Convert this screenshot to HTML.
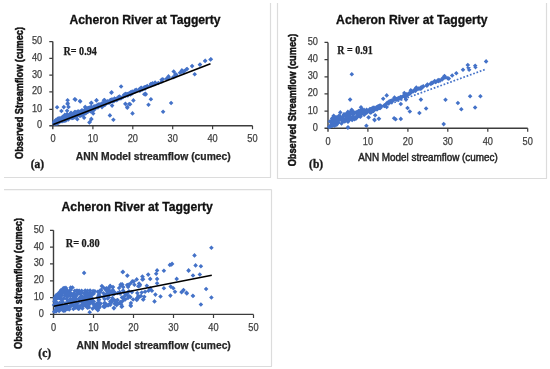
<!DOCTYPE html>
<html><head><meta charset="utf-8"><title>Acheron River at Taggerty</title><style>
html,body{margin:0;padding:0;background:#fff;width:550px;height:369px;overflow:hidden}
svg{position:absolute;left:0;top:0}
text{font-family:"Liberation Sans",Arial,sans-serif}
.tk{font-size:10.5px;fill:#404040;stroke:#404040;stroke-width:0.25}
.tt{font-size:12px;font-weight:bold;fill:#111;stroke:#111;stroke-width:0.3}
.xl{font-size:10px;font-weight:bold;fill:#262626;stroke:#262626;stroke-width:0.25}
.xl2{font-size:10px;fill:#262626;stroke:#262626;stroke-width:0.45}
.yl{font-size:10px;font-weight:bold;fill:#111;stroke:#111;stroke-width:0.45}
.rr{font-family:"Liberation Serif",serif;font-size:12px;font-weight:bold;fill:#1a1a1a;stroke:#1a1a1a;stroke-width:0.25}
.lb{font-family:"Liberation Serif",serif;font-size:11.5px;font-weight:bold;fill:#1a1a1a;stroke:#1a1a1a;stroke-width:0.35}
</style></head>
<body><svg width="550" height="369" viewBox="0 0 550 369">
<path d="M4 177.5H271M270.5 3V177.5" stroke="#dcdcdc" stroke-width="1.2" fill="none"/>
<path d="M277.5 3V178.5H547M546.5 3V178.5" stroke="#dcdcdc" stroke-width="1.2" fill="none"/>
<path d="M4 189.6H271.5M271.5 189.6V366.5M4 366.5H272" stroke="#dcdcdc" stroke-width="1.2" fill="none"/>
<path d="M52.8 41.6V129.3M49.3 125.8H252.5" stroke="#3c3c3c" stroke-width="1.4" fill="none"/>
<path d="M92.9 125.8v3.5M132.8 125.8v3.5M172.7 125.8v3.5M212.6 125.8v3.5M252.5 125.8v3.5M49.3 109.3h3.5M49.3 91.9h3.5M49.3 75.2h3.5M49.3 58.4h3.5M49.3 41.6h3.5" stroke="#3c3c3c" stroke-width="1.2" fill="none"/>
<path d="M55.4 120.1l2.3 2.3 -2.3 2.3 -2.3 -2.3zM56.8 118.9l2.3 2.3 -2.3 2.3 -2.3 -2.3zM55.5 120.1l2.3 2.3 -2.3 2.3 -2.3 -2.3zM54.6 120.4l2.3 2.3 -2.3 2.3 -2.3 -2.3zM55.9 120.8l2.3 2.3 -2.3 2.3 -2.3 -2.3zM54.3 119.9l2.3 2.3 -2.3 2.3 -2.3 -2.3zM54.3 121.5l2.3 2.3 -2.3 2.3 -2.3 -2.3zM56.1 117.6l2.3 2.3 -2.3 2.3 -2.3 -2.3zM56.9 121.1l2.3 2.3 -2.3 2.3 -2.3 -2.3zM56.0 120.0l2.3 2.3 -2.3 2.3 -2.3 -2.3zM54.5 118.9l2.3 2.3 -2.3 2.3 -2.3 -2.3zM55.6 118.1l2.3 2.3 -2.3 2.3 -2.3 -2.3zM54.6 119.5l2.3 2.3 -2.3 2.3 -2.3 -2.3zM54.1 120.5l2.3 2.3 -2.3 2.3 -2.3 -2.3zM55.3 121.2l2.3 2.3 -2.3 2.3 -2.3 -2.3zM60.6 118.0l2.3 2.3 -2.3 2.3 -2.3 -2.3zM60.5 118.2l2.3 2.3 -2.3 2.3 -2.3 -2.3zM60.2 116.3l2.3 2.3 -2.3 2.3 -2.3 -2.3zM64.0 118.7l2.3 2.3 -2.3 2.3 -2.3 -2.3zM62.9 117.4l2.3 2.3 -2.3 2.3 -2.3 -2.3zM59.2 116.6l2.3 2.3 -2.3 2.3 -2.3 -2.3zM59.0 115.9l2.3 2.3 -2.3 2.3 -2.3 -2.3zM62.4 115.9l2.3 2.3 -2.3 2.3 -2.3 -2.3zM62.9 115.5l2.3 2.3 -2.3 2.3 -2.3 -2.3zM63.7 117.9l2.3 2.3 -2.3 2.3 -2.3 -2.3zM57.0 117.6l2.3 2.3 -2.3 2.3 -2.3 -2.3zM63.4 115.8l2.3 2.3 -2.3 2.3 -2.3 -2.3zM63.9 115.2l2.3 2.3 -2.3 2.3 -2.3 -2.3zM57.5 119.3l2.3 2.3 -2.3 2.3 -2.3 -2.3zM62.4 115.1l2.3 2.3 -2.3 2.3 -2.3 -2.3zM57.6 117.9l2.3 2.3 -2.3 2.3 -2.3 -2.3zM63.7 117.4l2.3 2.3 -2.3 2.3 -2.3 -2.3zM57.8 117.4l2.3 2.3 -2.3 2.3 -2.3 -2.3zM57.7 116.6l2.3 2.3 -2.3 2.3 -2.3 -2.3zM62.6 114.5l2.3 2.3 -2.3 2.3 -2.3 -2.3zM60.9 116.9l2.3 2.3 -2.3 2.3 -2.3 -2.3zM58.3 119.4l2.3 2.3 -2.3 2.3 -2.3 -2.3zM57.9 119.2l2.3 2.3 -2.3 2.3 -2.3 -2.3zM57.8 118.2l2.3 2.3 -2.3 2.3 -2.3 -2.3zM58.5 117.1l2.3 2.3 -2.3 2.3 -2.3 -2.3zM63.8 117.6l2.3 2.3 -2.3 2.3 -2.3 -2.3zM59.1 119.9l2.3 2.3 -2.3 2.3 -2.3 -2.3zM58.5 117.8l2.3 2.3 -2.3 2.3 -2.3 -2.3zM63.0 117.0l2.3 2.3 -2.3 2.3 -2.3 -2.3zM57.7 120.9l2.3 2.3 -2.3 2.3 -2.3 -2.3zM58.5 117.1l2.3 2.3 -2.3 2.3 -2.3 -2.3zM62.4 115.5l2.3 2.3 -2.3 2.3 -2.3 -2.3zM59.1 115.9l2.3 2.3 -2.3 2.3 -2.3 -2.3zM57.6 119.0l2.3 2.3 -2.3 2.3 -2.3 -2.3zM58.7 118.7l2.3 2.3 -2.3 2.3 -2.3 -2.3zM59.6 117.5l2.3 2.3 -2.3 2.3 -2.3 -2.3zM63.7 115.7l2.3 2.3 -2.3 2.3 -2.3 -2.3zM61.0 119.0l2.3 2.3 -2.3 2.3 -2.3 -2.3zM58.3 116.7l2.3 2.3 -2.3 2.3 -2.3 -2.3zM63.4 117.9l2.3 2.3 -2.3 2.3 -2.3 -2.3zM58.7 116.6l2.3 2.3 -2.3 2.3 -2.3 -2.3zM62.2 119.0l2.3 2.3 -2.3 2.3 -2.3 -2.3zM65.2 118.0l2.3 2.3 -2.3 2.3 -2.3 -2.3zM69.3 114.6l2.3 2.3 -2.3 2.3 -2.3 -2.3zM66.5 112.5l2.3 2.3 -2.3 2.3 -2.3 -2.3zM64.2 118.4l2.3 2.3 -2.3 2.3 -2.3 -2.3zM65.4 116.5l2.3 2.3 -2.3 2.3 -2.3 -2.3zM65.5 117.1l2.3 2.3 -2.3 2.3 -2.3 -2.3zM67.6 113.3l2.3 2.3 -2.3 2.3 -2.3 -2.3zM65.1 116.7l2.3 2.3 -2.3 2.3 -2.3 -2.3zM64.4 113.9l2.3 2.3 -2.3 2.3 -2.3 -2.3zM67.4 116.7l2.3 2.3 -2.3 2.3 -2.3 -2.3zM67.7 113.2l2.3 2.3 -2.3 2.3 -2.3 -2.3zM69.5 112.1l2.3 2.3 -2.3 2.3 -2.3 -2.3zM64.1 114.3l2.3 2.3 -2.3 2.3 -2.3 -2.3zM66.7 112.2l2.3 2.3 -2.3 2.3 -2.3 -2.3zM65.1 114.6l2.3 2.3 -2.3 2.3 -2.3 -2.3zM67.4 112.3l2.3 2.3 -2.3 2.3 -2.3 -2.3zM66.2 117.3l2.3 2.3 -2.3 2.3 -2.3 -2.3zM69.9 114.7l2.3 2.3 -2.3 2.3 -2.3 -2.3zM68.1 114.8l2.3 2.3 -2.3 2.3 -2.3 -2.3zM64.8 112.6l2.3 2.3 -2.3 2.3 -2.3 -2.3zM64.1 118.1l2.3 2.3 -2.3 2.3 -2.3 -2.3zM68.2 117.1l2.3 2.3 -2.3 2.3 -2.3 -2.3zM64.1 116.5l2.3 2.3 -2.3 2.3 -2.3 -2.3zM66.9 116.1l2.3 2.3 -2.3 2.3 -2.3 -2.3zM65.9 118.1l2.3 2.3 -2.3 2.3 -2.3 -2.3zM64.5 115.8l2.3 2.3 -2.3 2.3 -2.3 -2.3zM68.4 116.6l2.3 2.3 -2.3 2.3 -2.3 -2.3zM68.4 115.4l2.3 2.3 -2.3 2.3 -2.3 -2.3zM68.8 116.6l2.3 2.3 -2.3 2.3 -2.3 -2.3zM66.1 116.1l2.3 2.3 -2.3 2.3 -2.3 -2.3zM69.4 116.1l2.3 2.3 -2.3 2.3 -2.3 -2.3zM66.5 116.6l2.3 2.3 -2.3 2.3 -2.3 -2.3zM69.2 114.4l2.3 2.3 -2.3 2.3 -2.3 -2.3zM67.7 113.7l2.3 2.3 -2.3 2.3 -2.3 -2.3zM72.3 113.8l2.3 2.3 -2.3 2.3 -2.3 -2.3zM70.3 114.5l2.3 2.3 -2.3 2.3 -2.3 -2.3zM74.0 115.2l2.3 2.3 -2.3 2.3 -2.3 -2.3zM72.9 112.4l2.3 2.3 -2.3 2.3 -2.3 -2.3zM72.9 113.5l2.3 2.3 -2.3 2.3 -2.3 -2.3zM71.8 115.4l2.3 2.3 -2.3 2.3 -2.3 -2.3zM70.3 115.1l2.3 2.3 -2.3 2.3 -2.3 -2.3zM70.1 114.3l2.3 2.3 -2.3 2.3 -2.3 -2.3zM71.9 111.6l2.3 2.3 -2.3 2.3 -2.3 -2.3zM72.8 113.1l2.3 2.3 -2.3 2.3 -2.3 -2.3zM72.5 115.7l2.3 2.3 -2.3 2.3 -2.3 -2.3zM71.0 110.5l2.3 2.3 -2.3 2.3 -2.3 -2.3zM71.2 114.5l2.3 2.3 -2.3 2.3 -2.3 -2.3zM70.8 111.5l2.3 2.3 -2.3 2.3 -2.3 -2.3zM73.6 113.9l2.3 2.3 -2.3 2.3 -2.3 -2.3zM71.8 115.7l2.3 2.3 -2.3 2.3 -2.3 -2.3zM71.3 114.4l2.3 2.3 -2.3 2.3 -2.3 -2.3zM70.8 113.1l2.3 2.3 -2.3 2.3 -2.3 -2.3zM73.2 115.5l2.3 2.3 -2.3 2.3 -2.3 -2.3zM73.5 112.2l2.3 2.3 -2.3 2.3 -2.3 -2.3zM72.3 112.1l2.3 2.3 -2.3 2.3 -2.3 -2.3zM75.2 112.4l2.3 2.3 -2.3 2.3 -2.3 -2.3zM81.5 112.4l2.3 2.3 -2.3 2.3 -2.3 -2.3zM80.4 113.3l2.3 2.3 -2.3 2.3 -2.3 -2.3zM76.5 110.1l2.3 2.3 -2.3 2.3 -2.3 -2.3zM78.1 110.3l2.3 2.3 -2.3 2.3 -2.3 -2.3zM75.9 111.7l2.3 2.3 -2.3 2.3 -2.3 -2.3zM79.6 111.1l2.3 2.3 -2.3 2.3 -2.3 -2.3zM76.8 113.9l2.3 2.3 -2.3 2.3 -2.3 -2.3zM82.8 109.9l2.3 2.3 -2.3 2.3 -2.3 -2.3zM74.7 109.7l2.3 2.3 -2.3 2.3 -2.3 -2.3zM81.9 108.1l2.3 2.3 -2.3 2.3 -2.3 -2.3zM80.4 111.3l2.3 2.3 -2.3 2.3 -2.3 -2.3zM76.8 113.7l2.3 2.3 -2.3 2.3 -2.3 -2.3zM74.2 110.5l2.3 2.3 -2.3 2.3 -2.3 -2.3zM78.1 108.9l2.3 2.3 -2.3 2.3 -2.3 -2.3zM81.5 109.2l2.3 2.3 -2.3 2.3 -2.3 -2.3zM75.3 109.7l2.3 2.3 -2.3 2.3 -2.3 -2.3zM79.7 110.8l2.3 2.3 -2.3 2.3 -2.3 -2.3zM79.7 111.9l2.3 2.3 -2.3 2.3 -2.3 -2.3zM81.3 113.0l2.3 2.3 -2.3 2.3 -2.3 -2.3zM80.2 109.3l2.3 2.3 -2.3 2.3 -2.3 -2.3zM78.3 109.7l2.3 2.3 -2.3 2.3 -2.3 -2.3zM74.1 112.6l2.3 2.3 -2.3 2.3 -2.3 -2.3zM80.4 109.2l2.3 2.3 -2.3 2.3 -2.3 -2.3zM76.5 111.2l2.3 2.3 -2.3 2.3 -2.3 -2.3zM80.3 111.0l2.3 2.3 -2.3 2.3 -2.3 -2.3zM79.5 112.5l2.3 2.3 -2.3 2.3 -2.3 -2.3zM77.5 113.4l2.3 2.3 -2.3 2.3 -2.3 -2.3zM82.2 108.2l2.3 2.3 -2.3 2.3 -2.3 -2.3zM82.4 111.4l2.3 2.3 -2.3 2.3 -2.3 -2.3zM75.2 112.2l2.3 2.3 -2.3 2.3 -2.3 -2.3zM79.6 113.3l2.3 2.3 -2.3 2.3 -2.3 -2.3zM77.4 112.2l2.3 2.3 -2.3 2.3 -2.3 -2.3zM81.9 112.0l2.3 2.3 -2.3 2.3 -2.3 -2.3zM82.5 110.1l2.3 2.3 -2.3 2.3 -2.3 -2.3zM79.9 109.4l2.3 2.3 -2.3 2.3 -2.3 -2.3zM80.5 112.5l2.3 2.3 -2.3 2.3 -2.3 -2.3zM79.8 112.2l2.3 2.3 -2.3 2.3 -2.3 -2.3zM75.9 114.6l2.3 2.3 -2.3 2.3 -2.3 -2.3zM82.8 112.6l2.3 2.3 -2.3 2.3 -2.3 -2.3zM87.8 109.5l2.3 2.3 -2.3 2.3 -2.3 -2.3zM85.9 110.9l2.3 2.3 -2.3 2.3 -2.3 -2.3zM90.7 106.3l2.3 2.3 -2.3 2.3 -2.3 -2.3zM83.7 109.5l2.3 2.3 -2.3 2.3 -2.3 -2.3zM88.0 109.4l2.3 2.3 -2.3 2.3 -2.3 -2.3zM87.4 106.1l2.3 2.3 -2.3 2.3 -2.3 -2.3zM90.3 105.1l2.3 2.3 -2.3 2.3 -2.3 -2.3zM90.2 105.7l2.3 2.3 -2.3 2.3 -2.3 -2.3zM86.0 110.3l2.3 2.3 -2.3 2.3 -2.3 -2.3zM84.3 107.9l2.3 2.3 -2.3 2.3 -2.3 -2.3zM87.6 109.3l2.3 2.3 -2.3 2.3 -2.3 -2.3zM90.6 107.9l2.3 2.3 -2.3 2.3 -2.3 -2.3zM91.5 106.6l2.3 2.3 -2.3 2.3 -2.3 -2.3zM91.5 104.8l2.3 2.3 -2.3 2.3 -2.3 -2.3zM85.0 109.4l2.3 2.3 -2.3 2.3 -2.3 -2.3zM85.6 110.2l2.3 2.3 -2.3 2.3 -2.3 -2.3zM88.7 107.9l2.3 2.3 -2.3 2.3 -2.3 -2.3zM90.6 107.3l2.3 2.3 -2.3 2.3 -2.3 -2.3zM85.8 108.4l2.3 2.3 -2.3 2.3 -2.3 -2.3zM90.6 108.8l2.3 2.3 -2.3 2.3 -2.3 -2.3zM84.9 111.1l2.3 2.3 -2.3 2.3 -2.3 -2.3zM91.7 106.7l2.3 2.3 -2.3 2.3 -2.3 -2.3zM88.2 106.6l2.3 2.3 -2.3 2.3 -2.3 -2.3zM87.8 108.2l2.3 2.3 -2.3 2.3 -2.3 -2.3zM88.4 105.7l2.3 2.3 -2.3 2.3 -2.3 -2.3zM91.7 106.6l2.3 2.3 -2.3 2.3 -2.3 -2.3zM86.6 110.1l2.3 2.3 -2.3 2.3 -2.3 -2.3zM88.1 108.0l2.3 2.3 -2.3 2.3 -2.3 -2.3zM89.2 105.6l2.3 2.3 -2.3 2.3 -2.3 -2.3zM87.8 107.7l2.3 2.3 -2.3 2.3 -2.3 -2.3zM91.6 108.5l2.3 2.3 -2.3 2.3 -2.3 -2.3zM85.4 109.0l2.3 2.3 -2.3 2.3 -2.3 -2.3zM84.1 109.3l2.3 2.3 -2.3 2.3 -2.3 -2.3zM90.3 109.0l2.3 2.3 -2.3 2.3 -2.3 -2.3zM95.8 104.2l2.3 2.3 -2.3 2.3 -2.3 -2.3zM93.5 106.3l2.3 2.3 -2.3 2.3 -2.3 -2.3zM99.4 102.3l2.3 2.3 -2.3 2.3 -2.3 -2.3zM98.2 102.3l2.3 2.3 -2.3 2.3 -2.3 -2.3zM93.6 104.7l2.3 2.3 -2.3 2.3 -2.3 -2.3zM97.5 103.6l2.3 2.3 -2.3 2.3 -2.3 -2.3zM94.8 105.8l2.3 2.3 -2.3 2.3 -2.3 -2.3zM92.8 107.1l2.3 2.3 -2.3 2.3 -2.3 -2.3zM93.0 106.1l2.3 2.3 -2.3 2.3 -2.3 -2.3zM94.0 104.4l2.3 2.3 -2.3 2.3 -2.3 -2.3zM96.2 104.5l2.3 2.3 -2.3 2.3 -2.3 -2.3zM95.0 104.9l2.3 2.3 -2.3 2.3 -2.3 -2.3zM96.2 103.5l2.3 2.3 -2.3 2.3 -2.3 -2.3zM93.6 106.3l2.3 2.3 -2.3 2.3 -2.3 -2.3zM97.1 104.5l2.3 2.3 -2.3 2.3 -2.3 -2.3zM98.8 104.0l2.3 2.3 -2.3 2.3 -2.3 -2.3zM98.9 102.8l2.3 2.3 -2.3 2.3 -2.3 -2.3zM97.9 105.1l2.3 2.3 -2.3 2.3 -2.3 -2.3zM99.2 102.9l2.3 2.3 -2.3 2.3 -2.3 -2.3zM94.5 107.1l2.3 2.3 -2.3 2.3 -2.3 -2.3zM93.7 107.8l2.3 2.3 -2.3 2.3 -2.3 -2.3zM99.1 102.4l2.3 2.3 -2.3 2.3 -2.3 -2.3zM93.9 106.6l2.3 2.3 -2.3 2.3 -2.3 -2.3zM94.1 104.0l2.3 2.3 -2.3 2.3 -2.3 -2.3zM98.7 103.5l2.3 2.3 -2.3 2.3 -2.3 -2.3zM98.3 102.6l2.3 2.3 -2.3 2.3 -2.3 -2.3zM108.1 100.5l2.3 2.3 -2.3 2.3 -2.3 -2.3zM100.4 102.2l2.3 2.3 -2.3 2.3 -2.3 -2.3zM113.6 98.9l2.3 2.3 -2.3 2.3 -2.3 -2.3zM119.4 94.5l2.3 2.3 -2.3 2.3 -2.3 -2.3zM110.1 99.9l2.3 2.3 -2.3 2.3 -2.3 -2.3zM110.1 99.7l2.3 2.3 -2.3 2.3 -2.3 -2.3zM103.8 100.4l2.3 2.3 -2.3 2.3 -2.3 -2.3zM102.1 101.0l2.3 2.3 -2.3 2.3 -2.3 -2.3zM111.0 98.9l2.3 2.3 -2.3 2.3 -2.3 -2.3zM111.4 97.7l2.3 2.3 -2.3 2.3 -2.3 -2.3zM103.7 100.9l2.3 2.3 -2.3 2.3 -2.3 -2.3zM116.8 97.8l2.3 2.3 -2.3 2.3 -2.3 -2.3zM118.5 94.8l2.3 2.3 -2.3 2.3 -2.3 -2.3zM101.2 104.0l2.3 2.3 -2.3 2.3 -2.3 -2.3zM109.2 100.3l2.3 2.3 -2.3 2.3 -2.3 -2.3zM106.5 100.5l2.3 2.3 -2.3 2.3 -2.3 -2.3zM110.3 98.9l2.3 2.3 -2.3 2.3 -2.3 -2.3zM112.0 97.1l2.3 2.3 -2.3 2.3 -2.3 -2.3zM114.0 98.5l2.3 2.3 -2.3 2.3 -2.3 -2.3zM103.6 101.6l2.3 2.3 -2.3 2.3 -2.3 -2.3zM114.8 97.1l2.3 2.3 -2.3 2.3 -2.3 -2.3zM103.9 100.7l2.3 2.3 -2.3 2.3 -2.3 -2.3zM110.3 97.8l2.3 2.3 -2.3 2.3 -2.3 -2.3zM117.9 96.9l2.3 2.3 -2.3 2.3 -2.3 -2.3zM114.1 98.6l2.3 2.3 -2.3 2.3 -2.3 -2.3zM112.6 97.9l2.3 2.3 -2.3 2.3 -2.3 -2.3zM112.0 98.4l2.3 2.3 -2.3 2.3 -2.3 -2.3zM119.7 96.2l2.3 2.3 -2.3 2.3 -2.3 -2.3zM105.2 102.3l2.3 2.3 -2.3 2.3 -2.3 -2.3zM114.9 98.0l2.3 2.3 -2.3 2.3 -2.3 -2.3zM116.3 96.5l2.3 2.3 -2.3 2.3 -2.3 -2.3zM117.9 97.0l2.3 2.3 -2.3 2.3 -2.3 -2.3zM113.9 98.4l2.3 2.3 -2.3 2.3 -2.3 -2.3zM115.3 96.9l2.3 2.3 -2.3 2.3 -2.3 -2.3zM114.5 96.3l2.3 2.3 -2.3 2.3 -2.3 -2.3zM106.8 100.4l2.3 2.3 -2.3 2.3 -2.3 -2.3zM100.2 102.7l2.3 2.3 -2.3 2.3 -2.3 -2.3zM112.8 98.5l2.3 2.3 -2.3 2.3 -2.3 -2.3zM104.6 102.6l2.3 2.3 -2.3 2.3 -2.3 -2.3zM113.3 97.5l2.3 2.3 -2.3 2.3 -2.3 -2.3zM113.2 98.1l2.3 2.3 -2.3 2.3 -2.3 -2.3zM110.7 98.7l2.3 2.3 -2.3 2.3 -2.3 -2.3zM120.0 95.6l2.3 2.3 -2.3 2.3 -2.3 -2.3zM114.0 98.3l2.3 2.3 -2.3 2.3 -2.3 -2.3zM119.6 94.2l2.3 2.3 -2.3 2.3 -2.3 -2.3zM112.3 99.0l2.3 2.3 -2.3 2.3 -2.3 -2.3zM105.1 100.9l2.3 2.3 -2.3 2.3 -2.3 -2.3zM101.0 101.9l2.3 2.3 -2.3 2.3 -2.3 -2.3zM107.5 99.1l2.3 2.3 -2.3 2.3 -2.3 -2.3zM105.0 102.4l2.3 2.3 -2.3 2.3 -2.3 -2.3zM111.0 98.8l2.3 2.3 -2.3 2.3 -2.3 -2.3zM119.3 95.7l2.3 2.3 -2.3 2.3 -2.3 -2.3zM139.9 87.5l2.3 2.3 -2.3 2.3 -2.3 -2.3zM136.2 87.6l2.3 2.3 -2.3 2.3 -2.3 -2.3zM132.0 91.1l2.3 2.3 -2.3 2.3 -2.3 -2.3zM120.9 96.0l2.3 2.3 -2.3 2.3 -2.3 -2.3zM123.2 93.9l2.3 2.3 -2.3 2.3 -2.3 -2.3zM123.4 93.9l2.3 2.3 -2.3 2.3 -2.3 -2.3zM132.2 89.2l2.3 2.3 -2.3 2.3 -2.3 -2.3zM138.9 87.4l2.3 2.3 -2.3 2.3 -2.3 -2.3zM130.5 91.2l2.3 2.3 -2.3 2.3 -2.3 -2.3zM127.3 91.8l2.3 2.3 -2.3 2.3 -2.3 -2.3zM133.1 90.1l2.3 2.3 -2.3 2.3 -2.3 -2.3zM125.7 93.5l2.3 2.3 -2.3 2.3 -2.3 -2.3zM125.9 91.6l2.3 2.3 -2.3 2.3 -2.3 -2.3zM124.9 92.1l2.3 2.3 -2.3 2.3 -2.3 -2.3zM123.1 94.6l2.3 2.3 -2.3 2.3 -2.3 -2.3zM127.8 93.1l2.3 2.3 -2.3 2.3 -2.3 -2.3zM135.0 88.1l2.3 2.3 -2.3 2.3 -2.3 -2.3zM139.8 88.4l2.3 2.3 -2.3 2.3 -2.3 -2.3zM121.5 95.7l2.3 2.3 -2.3 2.3 -2.3 -2.3zM128.6 91.7l2.3 2.3 -2.3 2.3 -2.3 -2.3zM139.5 86.7l2.3 2.3 -2.3 2.3 -2.3 -2.3zM130.5 92.1l2.3 2.3 -2.3 2.3 -2.3 -2.3zM134.5 89.3l2.3 2.3 -2.3 2.3 -2.3 -2.3zM139.6 88.1l2.3 2.3 -2.3 2.3 -2.3 -2.3zM132.1 89.4l2.3 2.3 -2.3 2.3 -2.3 -2.3zM132.5 90.1l2.3 2.3 -2.3 2.3 -2.3 -2.3zM124.1 92.5l2.3 2.3 -2.3 2.3 -2.3 -2.3zM130.6 90.0l2.3 2.3 -2.3 2.3 -2.3 -2.3zM128.9 92.1l2.3 2.3 -2.3 2.3 -2.3 -2.3zM129.1 91.0l2.3 2.3 -2.3 2.3 -2.3 -2.3zM131.6 90.3l2.3 2.3 -2.3 2.3 -2.3 -2.3zM135.6 89.0l2.3 2.3 -2.3 2.3 -2.3 -2.3zM140.0 88.3l2.3 2.3 -2.3 2.3 -2.3 -2.3zM134.7 88.6l2.3 2.3 -2.3 2.3 -2.3 -2.3zM142.3 87.2l2.3 2.3 -2.3 2.3 -2.3 -2.3zM155.7 81.1l2.3 2.3 -2.3 2.3 -2.3 -2.3zM147.2 83.7l2.3 2.3 -2.3 2.3 -2.3 -2.3zM153.7 81.8l2.3 2.3 -2.3 2.3 -2.3 -2.3zM151.8 82.7l2.3 2.3 -2.3 2.3 -2.3 -2.3zM155.1 80.3l2.3 2.3 -2.3 2.3 -2.3 -2.3zM145.0 86.3l2.3 2.3 -2.3 2.3 -2.3 -2.3zM158.3 80.7l2.3 2.3 -2.3 2.3 -2.3 -2.3zM140.8 85.7l2.3 2.3 -2.3 2.3 -2.3 -2.3zM145.4 84.8l2.3 2.3 -2.3 2.3 -2.3 -2.3zM152.5 81.1l2.3 2.3 -2.3 2.3 -2.3 -2.3zM150.8 81.7l2.3 2.3 -2.3 2.3 -2.3 -2.3zM141.7 86.9l2.3 2.3 -2.3 2.3 -2.3 -2.3zM151.0 83.0l2.3 2.3 -2.3 2.3 -2.3 -2.3zM147.5 84.1l2.3 2.3 -2.3 2.3 -2.3 -2.3zM144.2 85.1l2.3 2.3 -2.3 2.3 -2.3 -2.3zM154.9 82.0l2.3 2.3 -2.3 2.3 -2.3 -2.3zM141.5 85.6l2.3 2.3 -2.3 2.3 -2.3 -2.3zM176.2 72.8l2.3 2.3 -2.3 2.3 -2.3 -2.3zM175.4 72.1l2.3 2.3 -2.3 2.3 -2.3 -2.3zM168.5 75.0l2.3 2.3 -2.3 2.3 -2.3 -2.3zM176.2 72.2l2.3 2.3 -2.3 2.3 -2.3 -2.3zM173.1 75.0l2.3 2.3 -2.3 2.3 -2.3 -2.3zM166.5 76.5l2.3 2.3 -2.3 2.3 -2.3 -2.3zM174.9 74.1l2.3 2.3 -2.3 2.3 -2.3 -2.3zM168.6 75.3l2.3 2.3 -2.3 2.3 -2.3 -2.3zM161.9 79.2l2.3 2.3 -2.3 2.3 -2.3 -2.3zM161.6 77.4l2.3 2.3 -2.3 2.3 -2.3 -2.3zM183.4 69.6l2.3 2.3 -2.3 2.3 -2.3 -2.3zM184.1 69.0l2.3 2.3 -2.3 2.3 -2.3 -2.3zM67.6 97.9l2.3 2.3 -2.3 2.3 -2.3 -2.3zM74.7 97.0l2.3 2.3 -2.3 2.3 -2.3 -2.3zM80.2 99.2l2.3 2.3 -2.3 2.3 -2.3 -2.3zM96.5 97.9l2.3 2.3 -2.3 2.3 -2.3 -2.3zM91.3 100.8l2.3 2.3 -2.3 2.3 -2.3 -2.3zM67.6 101.7l2.3 2.3 -2.3 2.3 -2.3 -2.3zM68.5 104.6l2.3 2.3 -2.3 2.3 -2.3 -2.3zM57.1 105.0l2.3 2.3 -2.3 2.3 -2.3 -2.3zM63.8 104.8l2.3 2.3 -2.3 2.3 -2.3 -2.3zM61.4 108.7l2.3 2.3 -2.3 2.3 -2.3 -2.3zM67.1 108.4l2.3 2.3 -2.3 2.3 -2.3 -2.3zM85.1 104.8l2.3 2.3 -2.3 2.3 -2.3 -2.3zM91.3 116.9l2.3 2.3 -2.3 2.3 -2.3 -2.3zM89.4 120.2l2.3 2.3 -2.3 2.3 -2.3 -2.3zM93.2 111.2l2.3 2.3 -2.3 2.3 -2.3 -2.3zM121.1 84.2l2.3 2.3 -2.3 2.3 -2.3 -2.3zM111.6 90.0l2.3 2.3 -2.3 2.3 -2.3 -2.3zM96.4 98.1l2.3 2.3 -2.3 2.3 -2.3 -2.3zM104.5 97.8l2.3 2.3 -2.3 2.3 -2.3 -2.3zM112.1 103.3l2.3 2.3 -2.3 2.3 -2.3 -2.3zM125.4 101.4l2.3 2.3 -2.3 2.3 -2.3 -2.3zM130.1 101.9l2.3 2.3 -2.3 2.3 -2.3 -2.3zM127.3 105.4l2.3 2.3 -2.3 2.3 -2.3 -2.3zM133.4 98.1l2.3 2.3 -2.3 2.3 -2.3 -2.3zM132.5 111.1l2.3 2.3 -2.3 2.3 -2.3 -2.3zM109.9 113.1l2.3 2.3 -2.3 2.3 -2.3 -2.3zM113.4 117.5l2.3 2.3 -2.3 2.3 -2.3 -2.3zM144.3 91.9l2.3 2.3 -2.3 2.3 -2.3 -2.3zM173.7 69.2l2.3 2.3 -2.3 2.3 -2.3 -2.3zM145.7 92.1l2.3 2.3 -2.3 2.3 -2.3 -2.3zM150.9 97.0l2.3 2.3 -2.3 2.3 -2.3 -2.3zM162.8 76.9l2.3 2.3 -2.3 2.3 -2.3 -2.3zM168.5 74.1l2.3 2.3 -2.3 2.3 -2.3 -2.3zM176.0 72.7l2.3 2.3 -2.3 2.3 -2.3 -2.3zM181.7 69.3l2.3 2.3 -2.3 2.3 -2.3 -2.3zM186.5 67.0l2.3 2.3 -2.3 2.3 -2.3 -2.3zM210.5 57.2l2.3 2.3 -2.3 2.3 -2.3 -2.3zM205.1 58.6l2.3 2.3 -2.3 2.3 -2.3 -2.3zM199.9 62.4l2.3 2.3 -2.3 2.3 -2.3 -2.3zM192.1 63.8l2.3 2.3 -2.3 2.3 -2.3 -2.3zM187.1 66.7l2.3 2.3 -2.3 2.3 -2.3 -2.3zM181.9 68.1l2.3 2.3 -2.3 2.3 -2.3 -2.3zM194.7 71.9l2.3 2.3 -2.3 2.3 -2.3 -2.3zM180.0 70.5l2.3 2.3 -2.3 2.3 -2.3 -2.3zM210.9 57.0l2.3 2.3 -2.3 2.3 -2.3 -2.3zM205.2 58.5l2.3 2.3 -2.3 2.3 -2.3 -2.3zM200.0 62.3l2.3 2.3 -2.3 2.3 -2.3 -2.3zM148.5 102.5l2.3 2.3 -2.3 2.3 -2.3 -2.3zM171.1 100.7l2.3 2.3 -2.3 2.3 -2.3 -2.3zM163.1 109.4l2.3 2.3 -2.3 2.3 -2.3 -2.3zM111.4 90.4l2.3 2.3 -2.3 2.3 -2.3 -2.3zM145.5 91.4l2.3 2.3 -2.3 2.3 -2.3 -2.3zM67.7 101.0l2.3 2.3 -2.3 2.3 -2.3 -2.3zM91.5 100.6l2.3 2.3 -2.3 2.3 -2.3 -2.3zM85.3 104.8l2.3 2.3 -2.3 2.3 -2.3 -2.3zM91.0 100.7l2.3 2.3 -2.3 2.3 -2.3 -2.3zM96.6 98.0l2.3 2.3 -2.3 2.3 -2.3 -2.3zM80.0 98.8l2.3 2.3 -2.3 2.3 -2.3 -2.3zM75.4 97.3l2.3 2.3 -2.3 2.3 -2.3 -2.3zM103.9 98.0l2.3 2.3 -2.3 2.3 -2.3 -2.3zM102.0 104.8l2.3 2.3 -2.3 2.3 -2.3 -2.3zM91.3 116.6l2.3 2.3 -2.3 2.3 -2.3 -2.3zM89.8 119.7l2.3 2.3 -2.3 2.3 -2.3 -2.3zM77.3 117.0l2.3 2.3 -2.3 2.3 -2.3 -2.3zM84.1 115.5l2.3 2.3 -2.3 2.3 -2.3 -2.3zM125.4 101.7l2.3 2.3 -2.3 2.3 -2.3 -2.3zM127.3 104.8l2.3 2.3 -2.3 2.3 -2.3 -2.3zM129.2 101.7l2.3 2.3 -2.3 2.3 -2.3 -2.3zM112.1 103.2l2.3 2.3 -2.3 2.3 -2.3 -2.3z" fill="#4472C8"/>
<path d="M53.2 124.4L210.5 63.8" stroke="#000" stroke-width="1.6" fill="none"/>
<text x="53.0" y="142.2" text-anchor="middle" class="tk" textLength="5.14" lengthAdjust="spacingAndGlyphs">0</text>
<text x="92.9" y="142.2" text-anchor="middle" class="tk" textLength="10.27" lengthAdjust="spacingAndGlyphs">10</text>
<text x="132.8" y="142.2" text-anchor="middle" class="tk" textLength="10.27" lengthAdjust="spacingAndGlyphs">20</text>
<text x="172.7" y="142.2" text-anchor="middle" class="tk" textLength="10.27" lengthAdjust="spacingAndGlyphs">30</text>
<text x="212.6" y="142.2" text-anchor="middle" class="tk" textLength="10.27" lengthAdjust="spacingAndGlyphs">40</text>
<text x="252.5" y="142.2" text-anchor="middle" class="tk" textLength="10.27" lengthAdjust="spacingAndGlyphs">50</text>
<text x="42.2" y="128.2" text-anchor="end" class="tk" textLength="5.14" lengthAdjust="spacingAndGlyphs">0</text>
<text x="42.2" y="111.7" text-anchor="end" class="tk" textLength="10.27" lengthAdjust="spacingAndGlyphs">10</text>
<text x="42.2" y="94.3" text-anchor="end" class="tk" textLength="10.27" lengthAdjust="spacingAndGlyphs">20</text>
<text x="42.2" y="77.6" text-anchor="end" class="tk" textLength="10.27" lengthAdjust="spacingAndGlyphs">30</text>
<text x="42.2" y="60.8" text-anchor="end" class="tk" textLength="10.27" lengthAdjust="spacingAndGlyphs">40</text>
<text x="42.2" y="44.0" text-anchor="end" class="tk" textLength="10.27" lengthAdjust="spacingAndGlyphs">50</text>
<text x="69.6" y="23.8" class="tt" textLength="151" lengthAdjust="spacingAndGlyphs">Acheron River at Taggerty</text>
<text x="75.8" y="160.4" class="xl" textLength="155" lengthAdjust="spacingAndGlyphs">ANN Model streamflow (cumec)</text>
<text transform="translate(23.3 159) rotate(-90)" class="yl" textLength="132" lengthAdjust="spacingAndGlyphs">Observed Streamflow (cumec)</text>
<text x="63.5" y="55.3" class="rr" textLength="33.3" lengthAdjust="spacingAndGlyphs">R= 0.94</text>
<text x="30.7" y="168.2" class="lb">(a)</text>
<path d="M328.0 42.4V131.8M324.5 128.3H527.7" stroke="#3c3c3c" stroke-width="1.4" fill="none"/>
<path d="M367.9 128.3v3.5M407.9 128.3v3.5M447.8 128.3v3.5M487.8 128.3v3.5M527.7 128.3v3.5M324.5 111.1h3.5M324.5 93.9h3.5M324.5 76.8h3.5M324.5 59.6h3.5M324.5 42.4h3.5" stroke="#3c3c3c" stroke-width="1.2" fill="none"/>
<path d="M333.8 116.5l2.3 2.3 -2.3 2.3 -2.3 -2.3zM329.1 124.7l2.3 2.3 -2.3 2.3 -2.3 -2.3zM329.9 119.2l2.3 2.3 -2.3 2.3 -2.3 -2.3zM332.3 119.2l2.3 2.3 -2.3 2.3 -2.3 -2.3zM333.4 117.5l2.3 2.3 -2.3 2.3 -2.3 -2.3zM333.8 118.0l2.3 2.3 -2.3 2.3 -2.3 -2.3zM332.0 123.6l2.3 2.3 -2.3 2.3 -2.3 -2.3zM332.4 123.4l2.3 2.3 -2.3 2.3 -2.3 -2.3zM332.5 116.7l2.3 2.3 -2.3 2.3 -2.3 -2.3zM333.4 120.5l2.3 2.3 -2.3 2.3 -2.3 -2.3zM330.6 119.2l2.3 2.3 -2.3 2.3 -2.3 -2.3zM333.2 120.5l2.3 2.3 -2.3 2.3 -2.3 -2.3zM333.7 121.9l2.3 2.3 -2.3 2.3 -2.3 -2.3zM333.8 120.1l2.3 2.3 -2.3 2.3 -2.3 -2.3zM332.5 121.1l2.3 2.3 -2.3 2.3 -2.3 -2.3zM330.3 124.2l2.3 2.3 -2.3 2.3 -2.3 -2.3zM330.6 123.0l2.3 2.3 -2.3 2.3 -2.3 -2.3zM333.8 120.8l2.3 2.3 -2.3 2.3 -2.3 -2.3zM335.0 121.9l2.3 2.3 -2.3 2.3 -2.3 -2.3zM338.7 114.9l2.3 2.3 -2.3 2.3 -2.3 -2.3zM334.3 119.6l2.3 2.3 -2.3 2.3 -2.3 -2.3zM334.2 123.0l2.3 2.3 -2.3 2.3 -2.3 -2.3zM337.5 118.3l2.3 2.3 -2.3 2.3 -2.3 -2.3zM336.9 119.9l2.3 2.3 -2.3 2.3 -2.3 -2.3zM340.4 115.3l2.3 2.3 -2.3 2.3 -2.3 -2.3zM336.6 119.2l2.3 2.3 -2.3 2.3 -2.3 -2.3zM336.1 119.5l2.3 2.3 -2.3 2.3 -2.3 -2.3zM337.8 117.5l2.3 2.3 -2.3 2.3 -2.3 -2.3zM338.7 118.0l2.3 2.3 -2.3 2.3 -2.3 -2.3zM334.6 123.5l2.3 2.3 -2.3 2.3 -2.3 -2.3zM336.5 118.0l2.3 2.3 -2.3 2.3 -2.3 -2.3zM336.8 122.3l2.3 2.3 -2.3 2.3 -2.3 -2.3zM340.7 117.2l2.3 2.3 -2.3 2.3 -2.3 -2.3zM336.8 114.9l2.3 2.3 -2.3 2.3 -2.3 -2.3zM340.3 114.1l2.3 2.3 -2.3 2.3 -2.3 -2.3zM337.8 116.7l2.3 2.3 -2.3 2.3 -2.3 -2.3zM336.3 117.4l2.3 2.3 -2.3 2.3 -2.3 -2.3zM335.3 114.9l2.3 2.3 -2.3 2.3 -2.3 -2.3zM337.7 120.8l2.3 2.3 -2.3 2.3 -2.3 -2.3zM338.5 115.1l2.3 2.3 -2.3 2.3 -2.3 -2.3zM338.9 113.6l2.3 2.3 -2.3 2.3 -2.3 -2.3zM336.9 121.3l2.3 2.3 -2.3 2.3 -2.3 -2.3zM340.4 116.8l2.3 2.3 -2.3 2.3 -2.3 -2.3zM339.9 117.3l2.3 2.3 -2.3 2.3 -2.3 -2.3zM346.8 116.1l2.3 2.3 -2.3 2.3 -2.3 -2.3zM351.9 116.0l2.3 2.3 -2.3 2.3 -2.3 -2.3zM346.2 117.6l2.3 2.3 -2.3 2.3 -2.3 -2.3zM348.1 113.6l2.3 2.3 -2.3 2.3 -2.3 -2.3zM349.6 117.4l2.3 2.3 -2.3 2.3 -2.3 -2.3zM347.7 119.1l2.3 2.3 -2.3 2.3 -2.3 -2.3zM341.2 116.9l2.3 2.3 -2.3 2.3 -2.3 -2.3zM348.0 113.5l2.3 2.3 -2.3 2.3 -2.3 -2.3zM342.9 118.2l2.3 2.3 -2.3 2.3 -2.3 -2.3zM345.8 113.5l2.3 2.3 -2.3 2.3 -2.3 -2.3zM341.5 121.2l2.3 2.3 -2.3 2.3 -2.3 -2.3zM344.9 112.3l2.3 2.3 -2.3 2.3 -2.3 -2.3zM343.4 114.0l2.3 2.3 -2.3 2.3 -2.3 -2.3zM350.5 111.5l2.3 2.3 -2.3 2.3 -2.3 -2.3zM344.0 112.4l2.3 2.3 -2.3 2.3 -2.3 -2.3zM346.2 112.8l2.3 2.3 -2.3 2.3 -2.3 -2.3zM344.8 118.1l2.3 2.3 -2.3 2.3 -2.3 -2.3zM351.2 117.0l2.3 2.3 -2.3 2.3 -2.3 -2.3zM341.4 115.7l2.3 2.3 -2.3 2.3 -2.3 -2.3zM350.3 110.2l2.3 2.3 -2.3 2.3 -2.3 -2.3zM343.2 116.2l2.3 2.3 -2.3 2.3 -2.3 -2.3zM345.2 118.1l2.3 2.3 -2.3 2.3 -2.3 -2.3zM348.9 114.4l2.3 2.3 -2.3 2.3 -2.3 -2.3zM343.7 113.7l2.3 2.3 -2.3 2.3 -2.3 -2.3zM343.9 112.1l2.3 2.3 -2.3 2.3 -2.3 -2.3zM348.3 111.8l2.3 2.3 -2.3 2.3 -2.3 -2.3zM350.8 115.5l2.3 2.3 -2.3 2.3 -2.3 -2.3zM341.6 116.8l2.3 2.3 -2.3 2.3 -2.3 -2.3zM347.6 111.0l2.3 2.3 -2.3 2.3 -2.3 -2.3zM346.4 111.2l2.3 2.3 -2.3 2.3 -2.3 -2.3zM349.4 110.2l2.3 2.3 -2.3 2.3 -2.3 -2.3zM348.0 119.4l2.3 2.3 -2.3 2.3 -2.3 -2.3zM350.3 112.0l2.3 2.3 -2.3 2.3 -2.3 -2.3zM346.9 112.0l2.3 2.3 -2.3 2.3 -2.3 -2.3zM344.8 119.2l2.3 2.3 -2.3 2.3 -2.3 -2.3zM350.0 110.1l2.3 2.3 -2.3 2.3 -2.3 -2.3zM345.2 117.1l2.3 2.3 -2.3 2.3 -2.3 -2.3zM342.9 119.2l2.3 2.3 -2.3 2.3 -2.3 -2.3zM350.8 114.6l2.3 2.3 -2.3 2.3 -2.3 -2.3zM354.9 115.7l2.3 2.3 -2.3 2.3 -2.3 -2.3zM356.1 110.1l2.3 2.3 -2.3 2.3 -2.3 -2.3zM354.2 110.3l2.3 2.3 -2.3 2.3 -2.3 -2.3zM358.7 111.7l2.3 2.3 -2.3 2.3 -2.3 -2.3zM357.6 114.4l2.3 2.3 -2.3 2.3 -2.3 -2.3zM359.8 109.1l2.3 2.3 -2.3 2.3 -2.3 -2.3zM355.2 115.8l2.3 2.3 -2.3 2.3 -2.3 -2.3zM358.1 111.0l2.3 2.3 -2.3 2.3 -2.3 -2.3zM357.2 109.8l2.3 2.3 -2.3 2.3 -2.3 -2.3zM353.3 109.6l2.3 2.3 -2.3 2.3 -2.3 -2.3zM355.0 110.7l2.3 2.3 -2.3 2.3 -2.3 -2.3zM356.1 116.1l2.3 2.3 -2.3 2.3 -2.3 -2.3zM353.2 113.9l2.3 2.3 -2.3 2.3 -2.3 -2.3zM358.9 112.3l2.3 2.3 -2.3 2.3 -2.3 -2.3zM356.2 114.5l2.3 2.3 -2.3 2.3 -2.3 -2.3zM352.2 117.7l2.3 2.3 -2.3 2.3 -2.3 -2.3zM357.5 114.3l2.3 2.3 -2.3 2.3 -2.3 -2.3zM358.6 108.7l2.3 2.3 -2.3 2.3 -2.3 -2.3zM352.5 110.9l2.3 2.3 -2.3 2.3 -2.3 -2.3zM356.0 115.9l2.3 2.3 -2.3 2.3 -2.3 -2.3zM359.3 110.8l2.3 2.3 -2.3 2.3 -2.3 -2.3zM357.0 114.0l2.3 2.3 -2.3 2.3 -2.3 -2.3zM354.7 116.8l2.3 2.3 -2.3 2.3 -2.3 -2.3zM359.5 113.0l2.3 2.3 -2.3 2.3 -2.3 -2.3zM359.2 113.6l2.3 2.3 -2.3 2.3 -2.3 -2.3zM357.2 110.8l2.3 2.3 -2.3 2.3 -2.3 -2.3zM354.3 111.0l2.3 2.3 -2.3 2.3 -2.3 -2.3zM360.5 114.0l2.3 2.3 -2.3 2.3 -2.3 -2.3zM362.4 107.6l2.3 2.3 -2.3 2.3 -2.3 -2.3zM362.5 108.0l2.3 2.3 -2.3 2.3 -2.3 -2.3zM363.6 109.3l2.3 2.3 -2.3 2.3 -2.3 -2.3zM361.4 110.7l2.3 2.3 -2.3 2.3 -2.3 -2.3zM363.3 109.5l2.3 2.3 -2.3 2.3 -2.3 -2.3zM366.5 108.5l2.3 2.3 -2.3 2.3 -2.3 -2.3zM364.3 112.4l2.3 2.3 -2.3 2.3 -2.3 -2.3zM367.7 108.6l2.3 2.3 -2.3 2.3 -2.3 -2.3zM360.3 114.2l2.3 2.3 -2.3 2.3 -2.3 -2.3zM364.1 108.5l2.3 2.3 -2.3 2.3 -2.3 -2.3zM361.0 109.2l2.3 2.3 -2.3 2.3 -2.3 -2.3zM362.5 108.3l2.3 2.3 -2.3 2.3 -2.3 -2.3zM360.4 114.5l2.3 2.3 -2.3 2.3 -2.3 -2.3zM366.6 107.5l2.3 2.3 -2.3 2.3 -2.3 -2.3zM363.8 112.1l2.3 2.3 -2.3 2.3 -2.3 -2.3zM364.0 107.6l2.3 2.3 -2.3 2.3 -2.3 -2.3zM362.7 109.8l2.3 2.3 -2.3 2.3 -2.3 -2.3zM367.3 109.8l2.3 2.3 -2.3 2.3 -2.3 -2.3zM363.7 111.1l2.3 2.3 -2.3 2.3 -2.3 -2.3zM360.4 112.4l2.3 2.3 -2.3 2.3 -2.3 -2.3zM366.5 110.5l2.3 2.3 -2.3 2.3 -2.3 -2.3zM362.9 109.1l2.3 2.3 -2.3 2.3 -2.3 -2.3zM360.1 108.3l2.3 2.3 -2.3 2.3 -2.3 -2.3zM361.2 110.6l2.3 2.3 -2.3 2.3 -2.3 -2.3zM366.2 108.1l2.3 2.3 -2.3 2.3 -2.3 -2.3zM371.8 108.3l2.3 2.3 -2.3 2.3 -2.3 -2.3zM373.0 105.5l2.3 2.3 -2.3 2.3 -2.3 -2.3zM375.4 106.7l2.3 2.3 -2.3 2.3 -2.3 -2.3zM370.4 107.1l2.3 2.3 -2.3 2.3 -2.3 -2.3zM373.5 108.7l2.3 2.3 -2.3 2.3 -2.3 -2.3zM370.7 107.7l2.3 2.3 -2.3 2.3 -2.3 -2.3zM372.5 106.3l2.3 2.3 -2.3 2.3 -2.3 -2.3zM371.2 109.7l2.3 2.3 -2.3 2.3 -2.3 -2.3zM372.5 108.8l2.3 2.3 -2.3 2.3 -2.3 -2.3zM370.1 110.1l2.3 2.3 -2.3 2.3 -2.3 -2.3zM374.3 105.9l2.3 2.3 -2.3 2.3 -2.3 -2.3zM372.2 108.3l2.3 2.3 -2.3 2.3 -2.3 -2.3zM372.6 107.9l2.3 2.3 -2.3 2.3 -2.3 -2.3zM369.9 108.7l2.3 2.3 -2.3 2.3 -2.3 -2.3zM370.8 109.4l2.3 2.3 -2.3 2.3 -2.3 -2.3zM371.0 110.1l2.3 2.3 -2.3 2.3 -2.3 -2.3zM372.6 106.4l2.3 2.3 -2.3 2.3 -2.3 -2.3zM371.3 106.4l2.3 2.3 -2.3 2.3 -2.3 -2.3zM373.9 105.4l2.3 2.3 -2.3 2.3 -2.3 -2.3zM372.8 106.7l2.3 2.3 -2.3 2.3 -2.3 -2.3zM374.2 105.6l2.3 2.3 -2.3 2.3 -2.3 -2.3zM373.4 107.9l2.3 2.3 -2.3 2.3 -2.3 -2.3zM369.9 106.8l2.3 2.3 -2.3 2.3 -2.3 -2.3zM379.0 105.4l2.3 2.3 -2.3 2.3 -2.3 -2.3zM378.1 103.9l2.3 2.3 -2.3 2.3 -2.3 -2.3zM379.5 105.6l2.3 2.3 -2.3 2.3 -2.3 -2.3zM377.3 107.0l2.3 2.3 -2.3 2.3 -2.3 -2.3zM380.1 103.6l2.3 2.3 -2.3 2.3 -2.3 -2.3zM376.8 105.5l2.3 2.3 -2.3 2.3 -2.3 -2.3zM379.8 103.8l2.3 2.3 -2.3 2.3 -2.3 -2.3zM376.7 105.9l2.3 2.3 -2.3 2.3 -2.3 -2.3zM378.0 105.2l2.3 2.3 -2.3 2.3 -2.3 -2.3zM379.6 105.3l2.3 2.3 -2.3 2.3 -2.3 -2.3zM380.6 103.6l2.3 2.3 -2.3 2.3 -2.3 -2.3zM377.4 106.7l2.3 2.3 -2.3 2.3 -2.3 -2.3zM376.4 104.9l2.3 2.3 -2.3 2.3 -2.3 -2.3zM376.6 106.9l2.3 2.3 -2.3 2.3 -2.3 -2.3zM380.3 105.6l2.3 2.3 -2.3 2.3 -2.3 -2.3zM381.0 103.7l2.3 2.3 -2.3 2.3 -2.3 -2.3zM379.4 105.4l2.3 2.3 -2.3 2.3 -2.3 -2.3zM377.8 106.3l2.3 2.3 -2.3 2.3 -2.3 -2.3zM379.3 103.6l2.3 2.3 -2.3 2.3 -2.3 -2.3zM386.1 101.9l2.3 2.3 -2.3 2.3 -2.3 -2.3zM384.9 103.4l2.3 2.3 -2.3 2.3 -2.3 -2.3zM389.6 99.7l2.3 2.3 -2.3 2.3 -2.3 -2.3zM389.4 100.1l2.3 2.3 -2.3 2.3 -2.3 -2.3zM387.2 100.4l2.3 2.3 -2.3 2.3 -2.3 -2.3zM389.7 100.3l2.3 2.3 -2.3 2.3 -2.3 -2.3zM386.7 101.1l2.3 2.3 -2.3 2.3 -2.3 -2.3zM384.4 103.0l2.3 2.3 -2.3 2.3 -2.3 -2.3zM389.1 99.8l2.3 2.3 -2.3 2.3 -2.3 -2.3zM385.7 102.2l2.3 2.3 -2.3 2.3 -2.3 -2.3zM388.8 99.6l2.3 2.3 -2.3 2.3 -2.3 -2.3zM385.7 102.3l2.3 2.3 -2.3 2.3 -2.3 -2.3zM384.2 103.6l2.3 2.3 -2.3 2.3 -2.3 -2.3zM392.5 99.0l2.3 2.3 -2.3 2.3 -2.3 -2.3zM393.6 97.6l2.3 2.3 -2.3 2.3 -2.3 -2.3zM390.2 98.8l2.3 2.3 -2.3 2.3 -2.3 -2.3zM392.1 99.1l2.3 2.3 -2.3 2.3 -2.3 -2.3zM396.4 97.3l2.3 2.3 -2.3 2.3 -2.3 -2.3zM392.5 98.8l2.3 2.3 -2.3 2.3 -2.3 -2.3zM395.9 97.1l2.3 2.3 -2.3 2.3 -2.3 -2.3zM390.7 99.2l2.3 2.3 -2.3 2.3 -2.3 -2.3zM391.8 98.3l2.3 2.3 -2.3 2.3 -2.3 -2.3zM393.1 97.6l2.3 2.3 -2.3 2.3 -2.3 -2.3zM397.2 96.4l2.3 2.3 -2.3 2.3 -2.3 -2.3zM397.2 97.1l2.3 2.3 -2.3 2.3 -2.3 -2.3zM390.1 100.0l2.3 2.3 -2.3 2.3 -2.3 -2.3zM396.5 97.1l2.3 2.3 -2.3 2.3 -2.3 -2.3zM397.1 96.8l2.3 2.3 -2.3 2.3 -2.3 -2.3zM398.2 95.9l2.3 2.3 -2.3 2.3 -2.3 -2.3zM400.2 96.1l2.3 2.3 -2.3 2.3 -2.3 -2.3zM403.8 93.5l2.3 2.3 -2.3 2.3 -2.3 -2.3zM400.4 94.9l2.3 2.3 -2.3 2.3 -2.3 -2.3zM399.6 95.6l2.3 2.3 -2.3 2.3 -2.3 -2.3zM400.9 94.8l2.3 2.3 -2.3 2.3 -2.3 -2.3zM402.6 94.2l2.3 2.3 -2.3 2.3 -2.3 -2.3zM404.2 93.8l2.3 2.3 -2.3 2.3 -2.3 -2.3zM401.0 95.6l2.3 2.3 -2.3 2.3 -2.3 -2.3zM400.4 95.1l2.3 2.3 -2.3 2.3 -2.3 -2.3zM398.9 95.8l2.3 2.3 -2.3 2.3 -2.3 -2.3zM399.6 96.1l2.3 2.3 -2.3 2.3 -2.3 -2.3zM400.5 95.7l2.3 2.3 -2.3 2.3 -2.3 -2.3zM406.9 92.0l2.3 2.3 -2.3 2.3 -2.3 -2.3zM407.1 92.3l2.3 2.3 -2.3 2.3 -2.3 -2.3zM411.4 89.8l2.3 2.3 -2.3 2.3 -2.3 -2.3zM406.5 92.3l2.3 2.3 -2.3 2.3 -2.3 -2.3zM406.8 93.3l2.3 2.3 -2.3 2.3 -2.3 -2.3zM411.5 89.8l2.3 2.3 -2.3 2.3 -2.3 -2.3zM405.3 93.4l2.3 2.3 -2.3 2.3 -2.3 -2.3zM409.1 90.9l2.3 2.3 -2.3 2.3 -2.3 -2.3zM407.9 92.4l2.3 2.3 -2.3 2.3 -2.3 -2.3zM405.0 93.8l2.3 2.3 -2.3 2.3 -2.3 -2.3zM409.8 91.5l2.3 2.3 -2.3 2.3 -2.3 -2.3zM408.4 91.7l2.3 2.3 -2.3 2.3 -2.3 -2.3zM415.1 88.0l2.3 2.3 -2.3 2.3 -2.3 -2.3zM415.1 88.1l2.3 2.3 -2.3 2.3 -2.3 -2.3zM413.9 88.4l2.3 2.3 -2.3 2.3 -2.3 -2.3zM413.0 88.9l2.3 2.3 -2.3 2.3 -2.3 -2.3zM415.2 88.1l2.3 2.3 -2.3 2.3 -2.3 -2.3zM415.3 88.4l2.3 2.3 -2.3 2.3 -2.3 -2.3zM413.4 88.8l2.3 2.3 -2.3 2.3 -2.3 -2.3zM415.6 88.5l2.3 2.3 -2.3 2.3 -2.3 -2.3zM416.1 88.0l2.3 2.3 -2.3 2.3 -2.3 -2.3zM422.1 84.6l2.3 2.3 -2.3 2.3 -2.3 -2.3zM420.1 86.5l2.3 2.3 -2.3 2.3 -2.3 -2.3zM420.6 85.4l2.3 2.3 -2.3 2.3 -2.3 -2.3zM420.9 86.2l2.3 2.3 -2.3 2.3 -2.3 -2.3zM418.7 86.3l2.3 2.3 -2.3 2.3 -2.3 -2.3zM421.5 86.0l2.3 2.3 -2.3 2.3 -2.3 -2.3zM420.7 85.5l2.3 2.3 -2.3 2.3 -2.3 -2.3zM423.4 84.1l2.3 2.3 -2.3 2.3 -2.3 -2.3zM427.1 83.1l2.3 2.3 -2.3 2.3 -2.3 -2.3zM430.9 81.6l2.3 2.3 -2.3 2.3 -2.3 -2.3zM427.3 82.6l2.3 2.3 -2.3 2.3 -2.3 -2.3zM427.5 82.3l2.3 2.3 -2.3 2.3 -2.3 -2.3zM426.9 83.4l2.3 2.3 -2.3 2.3 -2.3 -2.3zM431.9 80.5l2.3 2.3 -2.3 2.3 -2.3 -2.3zM432.6 80.7l2.3 2.3 -2.3 2.3 -2.3 -2.3zM439.7 78.0l2.3 2.3 -2.3 2.3 -2.3 -2.3zM435.3 79.7l2.3 2.3 -2.3 2.3 -2.3 -2.3zM438.1 78.6l2.3 2.3 -2.3 2.3 -2.3 -2.3zM435.9 79.7l2.3 2.3 -2.3 2.3 -2.3 -2.3zM438.2 77.8l2.3 2.3 -2.3 2.3 -2.3 -2.3zM442.6 76.0l2.3 2.3 -2.3 2.3 -2.3 -2.3zM442.2 77.2l2.3 2.3 -2.3 2.3 -2.3 -2.3zM442.9 76.5l2.3 2.3 -2.3 2.3 -2.3 -2.3zM350.1 97.3l2.3 2.3 -2.3 2.3 -2.3 -2.3zM361.0 104.9l2.3 2.3 -2.3 2.3 -2.3 -2.3zM351.7 107.4l2.3 2.3 -2.3 2.3 -2.3 -2.3zM347.9 109.6l2.3 2.3 -2.3 2.3 -2.3 -2.3zM340.3 110.1l2.3 2.3 -2.3 2.3 -2.3 -2.3zM332.1 116.1l2.3 2.3 -2.3 2.3 -2.3 -2.3zM333.7 113.4l2.3 2.3 -2.3 2.3 -2.3 -2.3zM347.9 125.4l2.3 2.3 -2.3 2.3 -2.3 -2.3zM366.4 123.5l2.3 2.3 -2.3 2.3 -2.3 -2.3zM368.6 115.1l2.3 2.3 -2.3 2.3 -2.3 -2.3zM374.6 117.8l2.3 2.3 -2.3 2.3 -2.3 -2.3zM379.0 116.5l2.3 2.3 -2.3 2.3 -2.3 -2.3zM375.2 112.9l2.3 2.3 -2.3 2.3 -2.3 -2.3zM486.1 59.1l2.3 2.3 -2.3 2.3 -2.3 -2.3zM475.2 63.4l2.3 2.3 -2.3 2.3 -2.3 -2.3zM475.5 64.8l2.3 2.3 -2.3 2.3 -2.3 -2.3zM467.8 62.8l2.3 2.3 -2.3 2.3 -2.3 -2.3zM468.5 65.5l2.3 2.3 -2.3 2.3 -2.3 -2.3zM469.1 67.5l2.3 2.3 -2.3 2.3 -2.3 -2.3zM463.0 67.5l2.3 2.3 -2.3 2.3 -2.3 -2.3zM456.3 70.9l2.3 2.3 -2.3 2.3 -2.3 -2.3zM452.2 73.2l2.3 2.3 -2.3 2.3 -2.3 -2.3zM448.8 76.3l2.3 2.3 -2.3 2.3 -2.3 -2.3zM445.4 75.0l2.3 2.3 -2.3 2.3 -2.3 -2.3zM440.0 78.3l2.3 2.3 -2.3 2.3 -2.3 -2.3zM351.8 71.9l2.3 2.3 -2.3 2.3 -2.3 -2.3zM386.7 93.1l2.3 2.3 -2.3 2.3 -2.3 -2.3zM394.5 95.3l2.3 2.3 -2.3 2.3 -2.3 -2.3zM386.7 104.7l2.3 2.3 -2.3 2.3 -2.3 -2.3zM400.8 101.7l2.3 2.3 -2.3 2.3 -2.3 -2.3zM406.0 97.3l2.3 2.3 -2.3 2.3 -2.3 -2.3zM407.5 105.7l2.3 2.3 -2.3 2.3 -2.3 -2.3zM409.8 109.2l2.3 2.3 -2.3 2.3 -2.3 -2.3zM420.9 97.3l2.3 2.3 -2.3 2.3 -2.3 -2.3zM426.1 106.2l2.3 2.3 -2.3 2.3 -2.3 -2.3zM419.4 110.7l2.3 2.3 -2.3 2.3 -2.3 -2.3zM394.1 115.9l2.3 2.3 -2.3 2.3 -2.3 -2.3zM395.6 117.0l2.3 2.3 -2.3 2.3 -2.3 -2.3zM400.8 116.6l2.3 2.3 -2.3 2.3 -2.3 -2.3zM415.7 86.1l2.3 2.3 -2.3 2.3 -2.3 -2.3zM445.5 97.4l2.3 2.3 -2.3 2.3 -2.3 -2.3zM457.9 100.7l2.3 2.3 -2.3 2.3 -2.3 -2.3zM461.3 107.0l2.3 2.3 -2.3 2.3 -2.3 -2.3zM470.1 93.9l2.3 2.3 -2.3 2.3 -2.3 -2.3zM480.4 93.9l2.3 2.3 -2.3 2.3 -2.3 -2.3zM475.1 105.2l2.3 2.3 -2.3 2.3 -2.3 -2.3zM443.7 121.8l2.3 2.3 -2.3 2.3 -2.3 -2.3zM444.5 73.8l2.3 2.3 -2.3 2.3 -2.3 -2.3zM447.7 76.0l2.3 2.3 -2.3 2.3 -2.3 -2.3zM438.5 78.7l2.3 2.3 -2.3 2.3 -2.3 -2.3zM434.7 78.7l2.3 2.3 -2.3 2.3 -2.3 -2.3zM430.9 81.1l2.3 2.3 -2.3 2.3 -2.3 -2.3zM427.1 82.5l2.3 2.3 -2.3 2.3 -2.3 -2.3zM423.3 84.2l2.3 2.3 -2.3 2.3 -2.3 -2.3zM416.3 85.2l2.3 2.3 -2.3 2.3 -2.3 -2.3zM410.8 87.9l2.3 2.3 -2.3 2.3 -2.3 -2.3zM404.3 90.7l2.3 2.3 -2.3 2.3 -2.3 -2.3zM348.0 124.9l2.3 2.3 -2.3 2.3 -2.3 -2.3zM383.2 96.4l2.3 2.3 -2.3 2.3 -2.3 -2.3zM368.6 115.0l2.3 2.3 -2.3 2.3 -2.3 -2.3zM374.4 117.4l2.3 2.3 -2.3 2.3 -2.3 -2.3zM378.8 116.4l2.3 2.3 -2.3 2.3 -2.3 -2.3z" fill="#4472C8"/>
<path d="M328.5 126.5L485 69.5" stroke="#4472C8" stroke-width="1.7" stroke-dasharray="1.7 1.8" fill="none"/>
<text x="328.0" y="144.8" text-anchor="middle" class="tk" textLength="5.14" lengthAdjust="spacingAndGlyphs">0</text>
<text x="367.9" y="144.8" text-anchor="middle" class="tk" textLength="10.27" lengthAdjust="spacingAndGlyphs">10</text>
<text x="407.9" y="144.8" text-anchor="middle" class="tk" textLength="10.27" lengthAdjust="spacingAndGlyphs">20</text>
<text x="447.8" y="144.8" text-anchor="middle" class="tk" textLength="10.27" lengthAdjust="spacingAndGlyphs">30</text>
<text x="487.8" y="144.8" text-anchor="middle" class="tk" textLength="10.27" lengthAdjust="spacingAndGlyphs">40</text>
<text x="527.7" y="144.8" text-anchor="middle" class="tk" textLength="10.27" lengthAdjust="spacingAndGlyphs">50</text>
<text x="318.0" y="130.7" text-anchor="end" class="tk" textLength="5.14" lengthAdjust="spacingAndGlyphs">0</text>
<text x="318.0" y="113.5" text-anchor="end" class="tk" textLength="10.27" lengthAdjust="spacingAndGlyphs">10</text>
<text x="318.0" y="96.3" text-anchor="end" class="tk" textLength="10.27" lengthAdjust="spacingAndGlyphs">20</text>
<text x="318.0" y="79.2" text-anchor="end" class="tk" textLength="10.27" lengthAdjust="spacingAndGlyphs">30</text>
<text x="318.0" y="62.0" text-anchor="end" class="tk" textLength="10.27" lengthAdjust="spacingAndGlyphs">40</text>
<text x="318.0" y="44.8" text-anchor="end" class="tk" textLength="10.27" lengthAdjust="spacingAndGlyphs">50</text>
<text x="336.1" y="23.6" class="tt" textLength="151.4" lengthAdjust="spacingAndGlyphs">Acheron River at Taggerty</text>
<text x="358.2" y="160.5" class="xl2" textLength="139.6" lengthAdjust="spacingAndGlyphs">ANN Model streamflow (cumec)</text>
<text transform="translate(295.6 166.3) rotate(-90)" class="yl" textLength="132.5" lengthAdjust="spacingAndGlyphs">Observed Streamflow (cumec)</text>
<text x="337.3" y="54.4" class="rr" textLength="35.4" lengthAdjust="spacingAndGlyphs">R = 0.91</text>
<text x="309.1" y="167.5" class="lb">(b)</text>
<path d="M53.5 230.3V317.9M50.0 314.4H253.5" stroke="#3c3c3c" stroke-width="1.4" fill="none"/>
<path d="M93.5 314.4v3.5M133.5 314.4v3.5M173.5 314.4v3.5M213.5 314.4v3.5M253.5 314.4v3.5M50.0 297.6h3.5M50.0 280.8h3.5M50.0 263.9h3.5M50.0 247.1h3.5M50.0 230.3h3.5" stroke="#3c3c3c" stroke-width="1.2" fill="none"/>
<path d="M56.3 303.1l2.3 2.3 -2.3 2.3 -2.3 -2.3zM57.3 295.9l2.3 2.3 -2.3 2.3 -2.3 -2.3zM56.6 307.7l2.3 2.3 -2.3 2.3 -2.3 -2.3zM57.6 293.8l2.3 2.3 -2.3 2.3 -2.3 -2.3zM56.6 302.7l2.3 2.3 -2.3 2.3 -2.3 -2.3zM56.0 309.1l2.3 2.3 -2.3 2.3 -2.3 -2.3zM56.1 299.9l2.3 2.3 -2.3 2.3 -2.3 -2.3zM57.8 302.5l2.3 2.3 -2.3 2.3 -2.3 -2.3zM55.2 298.3l2.3 2.3 -2.3 2.3 -2.3 -2.3zM56.0 293.1l2.3 2.3 -2.3 2.3 -2.3 -2.3zM56.4 304.9l2.3 2.3 -2.3 2.3 -2.3 -2.3zM55.7 307.1l2.3 2.3 -2.3 2.3 -2.3 -2.3zM57.7 301.0l2.3 2.3 -2.3 2.3 -2.3 -2.3zM56.7 293.5l2.3 2.3 -2.3 2.3 -2.3 -2.3zM54.2 309.4l2.3 2.3 -2.3 2.3 -2.3 -2.3zM55.1 296.8l2.3 2.3 -2.3 2.3 -2.3 -2.3zM57.6 304.8l2.3 2.3 -2.3 2.3 -2.3 -2.3zM54.5 299.1l2.3 2.3 -2.3 2.3 -2.3 -2.3zM55.0 297.9l2.3 2.3 -2.3 2.3 -2.3 -2.3zM54.0 302.6l2.3 2.3 -2.3 2.3 -2.3 -2.3zM55.2 299.7l2.3 2.3 -2.3 2.3 -2.3 -2.3zM54.7 295.5l2.3 2.3 -2.3 2.3 -2.3 -2.3zM58.2 307.1l2.3 2.3 -2.3 2.3 -2.3 -2.3zM62.5 299.2l2.3 2.3 -2.3 2.3 -2.3 -2.3zM58.7 292.2l2.3 2.3 -2.3 2.3 -2.3 -2.3zM58.7 295.6l2.3 2.3 -2.3 2.3 -2.3 -2.3zM58.3 295.0l2.3 2.3 -2.3 2.3 -2.3 -2.3zM59.2 292.8l2.3 2.3 -2.3 2.3 -2.3 -2.3zM61.9 297.1l2.3 2.3 -2.3 2.3 -2.3 -2.3zM60.8 295.4l2.3 2.3 -2.3 2.3 -2.3 -2.3zM61.2 304.7l2.3 2.3 -2.3 2.3 -2.3 -2.3zM59.8 289.8l2.3 2.3 -2.3 2.3 -2.3 -2.3zM60.9 295.8l2.3 2.3 -2.3 2.3 -2.3 -2.3zM62.7 288.8l2.3 2.3 -2.3 2.3 -2.3 -2.3zM63.2 286.1l2.3 2.3 -2.3 2.3 -2.3 -2.3zM61.3 297.1l2.3 2.3 -2.3 2.3 -2.3 -2.3zM59.9 307.2l2.3 2.3 -2.3 2.3 -2.3 -2.3zM62.2 290.3l2.3 2.3 -2.3 2.3 -2.3 -2.3zM61.0 300.9l2.3 2.3 -2.3 2.3 -2.3 -2.3zM58.2 291.3l2.3 2.3 -2.3 2.3 -2.3 -2.3zM61.6 303.3l2.3 2.3 -2.3 2.3 -2.3 -2.3zM60.8 296.8l2.3 2.3 -2.3 2.3 -2.3 -2.3zM61.0 293.2l2.3 2.3 -2.3 2.3 -2.3 -2.3zM63.3 308.4l2.3 2.3 -2.3 2.3 -2.3 -2.3zM60.9 288.0l2.3 2.3 -2.3 2.3 -2.3 -2.3zM60.4 305.2l2.3 2.3 -2.3 2.3 -2.3 -2.3zM59.9 290.5l2.3 2.3 -2.3 2.3 -2.3 -2.3zM59.1 303.6l2.3 2.3 -2.3 2.3 -2.3 -2.3zM61.7 293.3l2.3 2.3 -2.3 2.3 -2.3 -2.3zM61.7 304.0l2.3 2.3 -2.3 2.3 -2.3 -2.3zM63.8 305.2l2.3 2.3 -2.3 2.3 -2.3 -2.3zM60.6 305.3l2.3 2.3 -2.3 2.3 -2.3 -2.3zM63.6 306.1l2.3 2.3 -2.3 2.3 -2.3 -2.3zM62.5 299.8l2.3 2.3 -2.3 2.3 -2.3 -2.3zM61.1 306.1l2.3 2.3 -2.3 2.3 -2.3 -2.3zM61.8 303.1l2.3 2.3 -2.3 2.3 -2.3 -2.3zM59.4 290.6l2.3 2.3 -2.3 2.3 -2.3 -2.3zM59.6 300.8l2.3 2.3 -2.3 2.3 -2.3 -2.3zM61.4 291.5l2.3 2.3 -2.3 2.3 -2.3 -2.3zM59.1 308.6l2.3 2.3 -2.3 2.3 -2.3 -2.3zM64.6 307.3l2.3 2.3 -2.3 2.3 -2.3 -2.3zM70.2 298.1l2.3 2.3 -2.3 2.3 -2.3 -2.3zM72.0 300.3l2.3 2.3 -2.3 2.3 -2.3 -2.3zM64.1 307.7l2.3 2.3 -2.3 2.3 -2.3 -2.3zM67.3 306.6l2.3 2.3 -2.3 2.3 -2.3 -2.3zM70.5 288.0l2.3 2.3 -2.3 2.3 -2.3 -2.3zM64.3 285.7l2.3 2.3 -2.3 2.3 -2.3 -2.3zM70.2 303.2l2.3 2.3 -2.3 2.3 -2.3 -2.3zM65.8 287.8l2.3 2.3 -2.3 2.3 -2.3 -2.3zM66.9 303.9l2.3 2.3 -2.3 2.3 -2.3 -2.3zM69.9 305.0l2.3 2.3 -2.3 2.3 -2.3 -2.3zM71.7 302.1l2.3 2.3 -2.3 2.3 -2.3 -2.3zM70.7 285.2l2.3 2.3 -2.3 2.3 -2.3 -2.3zM64.1 305.9l2.3 2.3 -2.3 2.3 -2.3 -2.3zM68.9 292.5l2.3 2.3 -2.3 2.3 -2.3 -2.3zM65.0 293.1l2.3 2.3 -2.3 2.3 -2.3 -2.3zM66.7 296.8l2.3 2.3 -2.3 2.3 -2.3 -2.3zM67.6 289.7l2.3 2.3 -2.3 2.3 -2.3 -2.3zM64.7 290.0l2.3 2.3 -2.3 2.3 -2.3 -2.3zM65.0 287.5l2.3 2.3 -2.3 2.3 -2.3 -2.3zM67.3 288.1l2.3 2.3 -2.3 2.3 -2.3 -2.3zM70.4 297.4l2.3 2.3 -2.3 2.3 -2.3 -2.3zM67.7 300.0l2.3 2.3 -2.3 2.3 -2.3 -2.3zM65.9 285.6l2.3 2.3 -2.3 2.3 -2.3 -2.3zM64.6 293.2l2.3 2.3 -2.3 2.3 -2.3 -2.3zM66.9 291.0l2.3 2.3 -2.3 2.3 -2.3 -2.3zM66.5 304.8l2.3 2.3 -2.3 2.3 -2.3 -2.3zM64.1 296.0l2.3 2.3 -2.3 2.3 -2.3 -2.3zM67.1 291.7l2.3 2.3 -2.3 2.3 -2.3 -2.3zM69.8 290.1l2.3 2.3 -2.3 2.3 -2.3 -2.3zM64.3 289.0l2.3 2.3 -2.3 2.3 -2.3 -2.3zM71.8 292.7l2.3 2.3 -2.3 2.3 -2.3 -2.3zM64.9 308.3l2.3 2.3 -2.3 2.3 -2.3 -2.3zM69.2 307.2l2.3 2.3 -2.3 2.3 -2.3 -2.3zM66.7 304.2l2.3 2.3 -2.3 2.3 -2.3 -2.3zM64.3 290.9l2.3 2.3 -2.3 2.3 -2.3 -2.3zM70.4 296.8l2.3 2.3 -2.3 2.3 -2.3 -2.3zM70.3 293.8l2.3 2.3 -2.3 2.3 -2.3 -2.3zM71.0 286.6l2.3 2.3 -2.3 2.3 -2.3 -2.3zM69.0 289.3l2.3 2.3 -2.3 2.3 -2.3 -2.3zM65.6 306.1l2.3 2.3 -2.3 2.3 -2.3 -2.3zM67.4 304.1l2.3 2.3 -2.3 2.3 -2.3 -2.3zM66.3 302.4l2.3 2.3 -2.3 2.3 -2.3 -2.3zM71.3 299.2l2.3 2.3 -2.3 2.3 -2.3 -2.3zM65.9 301.0l2.3 2.3 -2.3 2.3 -2.3 -2.3zM71.6 303.2l2.3 2.3 -2.3 2.3 -2.3 -2.3zM67.6 294.4l2.3 2.3 -2.3 2.3 -2.3 -2.3zM64.8 303.5l2.3 2.3 -2.3 2.3 -2.3 -2.3zM65.3 290.3l2.3 2.3 -2.3 2.3 -2.3 -2.3zM64.3 289.1l2.3 2.3 -2.3 2.3 -2.3 -2.3zM75.1 296.1l2.3 2.3 -2.3 2.3 -2.3 -2.3zM73.4 294.7l2.3 2.3 -2.3 2.3 -2.3 -2.3zM78.1 289.2l2.3 2.3 -2.3 2.3 -2.3 -2.3zM73.1 296.8l2.3 2.3 -2.3 2.3 -2.3 -2.3zM79.2 304.8l2.3 2.3 -2.3 2.3 -2.3 -2.3zM76.6 288.5l2.3 2.3 -2.3 2.3 -2.3 -2.3zM79.0 306.3l2.3 2.3 -2.3 2.3 -2.3 -2.3zM79.2 297.7l2.3 2.3 -2.3 2.3 -2.3 -2.3zM75.1 298.4l2.3 2.3 -2.3 2.3 -2.3 -2.3zM78.3 306.4l2.3 2.3 -2.3 2.3 -2.3 -2.3zM75.9 296.8l2.3 2.3 -2.3 2.3 -2.3 -2.3zM74.5 297.4l2.3 2.3 -2.3 2.3 -2.3 -2.3zM76.3 292.3l2.3 2.3 -2.3 2.3 -2.3 -2.3zM75.7 305.3l2.3 2.3 -2.3 2.3 -2.3 -2.3zM73.9 291.1l2.3 2.3 -2.3 2.3 -2.3 -2.3zM74.4 304.2l2.3 2.3 -2.3 2.3 -2.3 -2.3zM74.4 303.5l2.3 2.3 -2.3 2.3 -2.3 -2.3zM79.4 304.0l2.3 2.3 -2.3 2.3 -2.3 -2.3zM78.4 291.2l2.3 2.3 -2.3 2.3 -2.3 -2.3zM75.6 303.4l2.3 2.3 -2.3 2.3 -2.3 -2.3zM74.0 298.7l2.3 2.3 -2.3 2.3 -2.3 -2.3zM79.0 305.2l2.3 2.3 -2.3 2.3 -2.3 -2.3zM74.8 288.5l2.3 2.3 -2.3 2.3 -2.3 -2.3zM72.2 292.0l2.3 2.3 -2.3 2.3 -2.3 -2.3zM76.4 292.3l2.3 2.3 -2.3 2.3 -2.3 -2.3zM78.6 299.9l2.3 2.3 -2.3 2.3 -2.3 -2.3zM77.0 303.3l2.3 2.3 -2.3 2.3 -2.3 -2.3zM74.6 299.7l2.3 2.3 -2.3 2.3 -2.3 -2.3zM74.8 292.1l2.3 2.3 -2.3 2.3 -2.3 -2.3zM72.9 302.8l2.3 2.3 -2.3 2.3 -2.3 -2.3zM79.2 288.4l2.3 2.3 -2.3 2.3 -2.3 -2.3zM77.7 288.4l2.3 2.3 -2.3 2.3 -2.3 -2.3zM75.3 292.8l2.3 2.3 -2.3 2.3 -2.3 -2.3zM79.2 295.9l2.3 2.3 -2.3 2.3 -2.3 -2.3zM76.1 293.8l2.3 2.3 -2.3 2.3 -2.3 -2.3zM74.0 290.9l2.3 2.3 -2.3 2.3 -2.3 -2.3zM72.5 285.2l2.3 2.3 -2.3 2.3 -2.3 -2.3zM76.4 301.6l2.3 2.3 -2.3 2.3 -2.3 -2.3zM77.4 292.1l2.3 2.3 -2.3 2.3 -2.3 -2.3zM79.9 289.6l2.3 2.3 -2.3 2.3 -2.3 -2.3zM75.5 293.2l2.3 2.3 -2.3 2.3 -2.3 -2.3zM73.4 306.6l2.3 2.3 -2.3 2.3 -2.3 -2.3zM77.7 289.8l2.3 2.3 -2.3 2.3 -2.3 -2.3zM73.4 303.2l2.3 2.3 -2.3 2.3 -2.3 -2.3zM75.0 292.4l2.3 2.3 -2.3 2.3 -2.3 -2.3zM74.4 292.7l2.3 2.3 -2.3 2.3 -2.3 -2.3zM85.9 293.9l2.3 2.3 -2.3 2.3 -2.3 -2.3zM85.9 289.4l2.3 2.3 -2.3 2.3 -2.3 -2.3zM85.4 298.9l2.3 2.3 -2.3 2.3 -2.3 -2.3zM83.2 304.0l2.3 2.3 -2.3 2.3 -2.3 -2.3zM89.3 300.3l2.3 2.3 -2.3 2.3 -2.3 -2.3zM84.1 291.2l2.3 2.3 -2.3 2.3 -2.3 -2.3zM86.3 293.5l2.3 2.3 -2.3 2.3 -2.3 -2.3zM81.6 297.8l2.3 2.3 -2.3 2.3 -2.3 -2.3zM82.0 299.8l2.3 2.3 -2.3 2.3 -2.3 -2.3zM87.6 288.4l2.3 2.3 -2.3 2.3 -2.3 -2.3zM86.3 291.7l2.3 2.3 -2.3 2.3 -2.3 -2.3zM83.4 301.3l2.3 2.3 -2.3 2.3 -2.3 -2.3zM89.7 294.0l2.3 2.3 -2.3 2.3 -2.3 -2.3zM87.5 294.6l2.3 2.3 -2.3 2.3 -2.3 -2.3zM89.4 291.4l2.3 2.3 -2.3 2.3 -2.3 -2.3zM86.6 289.7l2.3 2.3 -2.3 2.3 -2.3 -2.3zM85.6 301.8l2.3 2.3 -2.3 2.3 -2.3 -2.3zM89.1 302.3l2.3 2.3 -2.3 2.3 -2.3 -2.3zM85.5 295.5l2.3 2.3 -2.3 2.3 -2.3 -2.3zM86.3 300.1l2.3 2.3 -2.3 2.3 -2.3 -2.3zM86.1 301.3l2.3 2.3 -2.3 2.3 -2.3 -2.3zM87.5 305.4l2.3 2.3 -2.3 2.3 -2.3 -2.3zM86.2 304.2l2.3 2.3 -2.3 2.3 -2.3 -2.3zM87.4 295.2l2.3 2.3 -2.3 2.3 -2.3 -2.3zM88.0 294.9l2.3 2.3 -2.3 2.3 -2.3 -2.3zM88.3 304.4l2.3 2.3 -2.3 2.3 -2.3 -2.3zM89.0 305.0l2.3 2.3 -2.3 2.3 -2.3 -2.3zM86.9 297.3l2.3 2.3 -2.3 2.3 -2.3 -2.3zM82.9 299.8l2.3 2.3 -2.3 2.3 -2.3 -2.3zM88.9 294.8l2.3 2.3 -2.3 2.3 -2.3 -2.3zM82.1 301.9l2.3 2.3 -2.3 2.3 -2.3 -2.3zM89.1 292.0l2.3 2.3 -2.3 2.3 -2.3 -2.3zM81.4 290.2l2.3 2.3 -2.3 2.3 -2.3 -2.3zM85.5 303.4l2.3 2.3 -2.3 2.3 -2.3 -2.3zM82.5 302.5l2.3 2.3 -2.3 2.3 -2.3 -2.3zM80.5 292.0l2.3 2.3 -2.3 2.3 -2.3 -2.3zM85.5 302.1l2.3 2.3 -2.3 2.3 -2.3 -2.3zM84.9 300.7l2.3 2.3 -2.3 2.3 -2.3 -2.3zM83.6 295.1l2.3 2.3 -2.3 2.3 -2.3 -2.3zM85.2 288.2l2.3 2.3 -2.3 2.3 -2.3 -2.3zM82.0 294.6l2.3 2.3 -2.3 2.3 -2.3 -2.3zM86.6 291.8l2.3 2.3 -2.3 2.3 -2.3 -2.3zM82.4 306.2l2.3 2.3 -2.3 2.3 -2.3 -2.3zM86.5 295.7l2.3 2.3 -2.3 2.3 -2.3 -2.3zM87.8 301.3l2.3 2.3 -2.3 2.3 -2.3 -2.3zM88.2 298.5l2.3 2.3 -2.3 2.3 -2.3 -2.3zM86.1 290.0l2.3 2.3 -2.3 2.3 -2.3 -2.3zM84.3 295.3l2.3 2.3 -2.3 2.3 -2.3 -2.3zM82.6 294.8l2.3 2.3 -2.3 2.3 -2.3 -2.3zM88.9 292.3l2.3 2.3 -2.3 2.3 -2.3 -2.3zM81.1 294.2l2.3 2.3 -2.3 2.3 -2.3 -2.3zM81.7 288.6l2.3 2.3 -2.3 2.3 -2.3 -2.3zM99.1 297.2l2.3 2.3 -2.3 2.3 -2.3 -2.3zM90.3 298.0l2.3 2.3 -2.3 2.3 -2.3 -2.3zM91.7 296.9l2.3 2.3 -2.3 2.3 -2.3 -2.3zM99.4 305.3l2.3 2.3 -2.3 2.3 -2.3 -2.3zM94.0 302.2l2.3 2.3 -2.3 2.3 -2.3 -2.3zM94.9 289.0l2.3 2.3 -2.3 2.3 -2.3 -2.3zM94.0 302.8l2.3 2.3 -2.3 2.3 -2.3 -2.3zM97.8 300.7l2.3 2.3 -2.3 2.3 -2.3 -2.3zM99.9 293.9l2.3 2.3 -2.3 2.3 -2.3 -2.3zM97.0 302.6l2.3 2.3 -2.3 2.3 -2.3 -2.3zM99.2 303.3l2.3 2.3 -2.3 2.3 -2.3 -2.3zM98.7 293.3l2.3 2.3 -2.3 2.3 -2.3 -2.3zM93.8 299.2l2.3 2.3 -2.3 2.3 -2.3 -2.3zM91.2 293.7l2.3 2.3 -2.3 2.3 -2.3 -2.3zM93.7 291.5l2.3 2.3 -2.3 2.3 -2.3 -2.3zM91.9 300.1l2.3 2.3 -2.3 2.3 -2.3 -2.3zM93.1 288.8l2.3 2.3 -2.3 2.3 -2.3 -2.3zM98.0 304.9l2.3 2.3 -2.3 2.3 -2.3 -2.3zM92.2 300.6l2.3 2.3 -2.3 2.3 -2.3 -2.3zM90.8 292.2l2.3 2.3 -2.3 2.3 -2.3 -2.3zM91.6 299.9l2.3 2.3 -2.3 2.3 -2.3 -2.3zM95.6 302.8l2.3 2.3 -2.3 2.3 -2.3 -2.3zM96.6 301.4l2.3 2.3 -2.3 2.3 -2.3 -2.3zM98.7 297.9l2.3 2.3 -2.3 2.3 -2.3 -2.3zM92.3 290.9l2.3 2.3 -2.3 2.3 -2.3 -2.3zM98.6 302.4l2.3 2.3 -2.3 2.3 -2.3 -2.3zM96.5 305.1l2.3 2.3 -2.3 2.3 -2.3 -2.3zM98.1 294.6l2.3 2.3 -2.3 2.3 -2.3 -2.3zM91.9 295.9l2.3 2.3 -2.3 2.3 -2.3 -2.3zM99.2 303.7l2.3 2.3 -2.3 2.3 -2.3 -2.3zM90.1 288.3l2.3 2.3 -2.3 2.3 -2.3 -2.3zM94.5 304.6l2.3 2.3 -2.3 2.3 -2.3 -2.3zM98.8 302.7l2.3 2.3 -2.3 2.3 -2.3 -2.3zM90.7 291.9l2.3 2.3 -2.3 2.3 -2.3 -2.3zM97.7 295.4l2.3 2.3 -2.3 2.3 -2.3 -2.3zM93.2 305.6l2.3 2.3 -2.3 2.3 -2.3 -2.3zM90.2 297.2l2.3 2.3 -2.3 2.3 -2.3 -2.3zM98.8 300.1l2.3 2.3 -2.3 2.3 -2.3 -2.3zM98.9 292.0l2.3 2.3 -2.3 2.3 -2.3 -2.3zM95.6 305.7l2.3 2.3 -2.3 2.3 -2.3 -2.3zM91.3 296.0l2.3 2.3 -2.3 2.3 -2.3 -2.3zM99.9 289.8l2.3 2.3 -2.3 2.3 -2.3 -2.3zM97.7 301.2l2.3 2.3 -2.3 2.3 -2.3 -2.3zM92.6 306.3l2.3 2.3 -2.3 2.3 -2.3 -2.3zM97.8 289.5l2.3 2.3 -2.3 2.3 -2.3 -2.3zM109.9 301.5l2.3 2.3 -2.3 2.3 -2.3 -2.3zM104.8 286.3l2.3 2.3 -2.3 2.3 -2.3 -2.3zM107.8 296.2l2.3 2.3 -2.3 2.3 -2.3 -2.3zM107.4 286.7l2.3 2.3 -2.3 2.3 -2.3 -2.3zM104.8 301.1l2.3 2.3 -2.3 2.3 -2.3 -2.3zM107.3 288.5l2.3 2.3 -2.3 2.3 -2.3 -2.3zM103.3 294.7l2.3 2.3 -2.3 2.3 -2.3 -2.3zM104.6 304.6l2.3 2.3 -2.3 2.3 -2.3 -2.3zM109.3 284.9l2.3 2.3 -2.3 2.3 -2.3 -2.3zM106.2 288.1l2.3 2.3 -2.3 2.3 -2.3 -2.3zM108.6 295.0l2.3 2.3 -2.3 2.3 -2.3 -2.3zM109.0 302.2l2.3 2.3 -2.3 2.3 -2.3 -2.3zM109.3 288.0l2.3 2.3 -2.3 2.3 -2.3 -2.3zM100.6 301.3l2.3 2.3 -2.3 2.3 -2.3 -2.3zM104.7 300.5l2.3 2.3 -2.3 2.3 -2.3 -2.3zM104.4 293.7l2.3 2.3 -2.3 2.3 -2.3 -2.3zM107.3 292.2l2.3 2.3 -2.3 2.3 -2.3 -2.3zM105.0 293.3l2.3 2.3 -2.3 2.3 -2.3 -2.3zM106.7 286.7l2.3 2.3 -2.3 2.3 -2.3 -2.3zM104.6 296.8l2.3 2.3 -2.3 2.3 -2.3 -2.3zM106.9 302.5l2.3 2.3 -2.3 2.3 -2.3 -2.3zM103.7 304.2l2.3 2.3 -2.3 2.3 -2.3 -2.3zM107.0 292.6l2.3 2.3 -2.3 2.3 -2.3 -2.3zM105.6 292.5l2.3 2.3 -2.3 2.3 -2.3 -2.3zM106.5 285.9l2.3 2.3 -2.3 2.3 -2.3 -2.3zM109.0 291.7l2.3 2.3 -2.3 2.3 -2.3 -2.3zM100.1 288.3l2.3 2.3 -2.3 2.3 -2.3 -2.3zM103.4 291.0l2.3 2.3 -2.3 2.3 -2.3 -2.3zM108.4 292.2l2.3 2.3 -2.3 2.3 -2.3 -2.3zM109.2 290.2l2.3 2.3 -2.3 2.3 -2.3 -2.3zM103.4 304.1l2.3 2.3 -2.3 2.3 -2.3 -2.3zM108.6 302.8l2.3 2.3 -2.3 2.3 -2.3 -2.3zM101.1 287.8l2.3 2.3 -2.3 2.3 -2.3 -2.3zM106.9 291.7l2.3 2.3 -2.3 2.3 -2.3 -2.3zM101.0 288.2l2.3 2.3 -2.3 2.3 -2.3 -2.3zM113.2 290.1l2.3 2.3 -2.3 2.3 -2.3 -2.3zM116.6 302.8l2.3 2.3 -2.3 2.3 -2.3 -2.3zM111.7 299.6l2.3 2.3 -2.3 2.3 -2.3 -2.3zM115.9 300.5l2.3 2.3 -2.3 2.3 -2.3 -2.3zM119.9 301.0l2.3 2.3 -2.3 2.3 -2.3 -2.3zM111.3 298.6l2.3 2.3 -2.3 2.3 -2.3 -2.3zM117.7 290.7l2.3 2.3 -2.3 2.3 -2.3 -2.3zM110.3 299.1l2.3 2.3 -2.3 2.3 -2.3 -2.3zM116.3 298.4l2.3 2.3 -2.3 2.3 -2.3 -2.3zM117.6 297.7l2.3 2.3 -2.3 2.3 -2.3 -2.3zM110.4 302.5l2.3 2.3 -2.3 2.3 -2.3 -2.3zM119.6 289.8l2.3 2.3 -2.3 2.3 -2.3 -2.3zM117.9 301.7l2.3 2.3 -2.3 2.3 -2.3 -2.3zM114.3 290.4l2.3 2.3 -2.3 2.3 -2.3 -2.3zM116.0 298.8l2.3 2.3 -2.3 2.3 -2.3 -2.3zM114.1 297.4l2.3 2.3 -2.3 2.3 -2.3 -2.3zM119.5 290.3l2.3 2.3 -2.3 2.3 -2.3 -2.3zM119.1 285.7l2.3 2.3 -2.3 2.3 -2.3 -2.3zM115.9 299.8l2.3 2.3 -2.3 2.3 -2.3 -2.3zM114.1 289.4l2.3 2.3 -2.3 2.3 -2.3 -2.3zM112.8 291.2l2.3 2.3 -2.3 2.3 -2.3 -2.3zM113.9 291.9l2.3 2.3 -2.3 2.3 -2.3 -2.3zM112.4 295.7l2.3 2.3 -2.3 2.3 -2.3 -2.3zM112.2 289.3l2.3 2.3 -2.3 2.3 -2.3 -2.3zM114.7 301.5l2.3 2.3 -2.3 2.3 -2.3 -2.3zM112.8 287.7l2.3 2.3 -2.3 2.3 -2.3 -2.3zM127.7 293.3l2.3 2.3 -2.3 2.3 -2.3 -2.3zM121.2 302.0l2.3 2.3 -2.3 2.3 -2.3 -2.3zM122.0 295.1l2.3 2.3 -2.3 2.3 -2.3 -2.3zM122.4 299.0l2.3 2.3 -2.3 2.3 -2.3 -2.3zM123.7 294.8l2.3 2.3 -2.3 2.3 -2.3 -2.3zM128.0 295.7l2.3 2.3 -2.3 2.3 -2.3 -2.3zM123.1 288.2l2.3 2.3 -2.3 2.3 -2.3 -2.3zM125.8 292.4l2.3 2.3 -2.3 2.3 -2.3 -2.3zM127.1 282.7l2.3 2.3 -2.3 2.3 -2.3 -2.3zM120.6 282.6l2.3 2.3 -2.3 2.3 -2.3 -2.3zM128.1 284.7l2.3 2.3 -2.3 2.3 -2.3 -2.3zM127.5 290.7l2.3 2.3 -2.3 2.3 -2.3 -2.3zM129.5 294.1l2.3 2.3 -2.3 2.3 -2.3 -2.3zM128.5 283.1l2.3 2.3 -2.3 2.3 -2.3 -2.3zM128.9 288.9l2.3 2.3 -2.3 2.3 -2.3 -2.3zM120.4 299.8l2.3 2.3 -2.3 2.3 -2.3 -2.3zM122.3 295.4l2.3 2.3 -2.3 2.3 -2.3 -2.3zM120.2 291.5l2.3 2.3 -2.3 2.3 -2.3 -2.3zM124.7 291.0l2.3 2.3 -2.3 2.3 -2.3 -2.3zM138.3 284.0l2.3 2.3 -2.3 2.3 -2.3 -2.3zM139.1 281.2l2.3 2.3 -2.3 2.3 -2.3 -2.3zM139.7 283.5l2.3 2.3 -2.3 2.3 -2.3 -2.3zM136.8 297.6l2.3 2.3 -2.3 2.3 -2.3 -2.3zM136.8 296.0l2.3 2.3 -2.3 2.3 -2.3 -2.3zM130.9 300.7l2.3 2.3 -2.3 2.3 -2.3 -2.3zM130.4 294.7l2.3 2.3 -2.3 2.3 -2.3 -2.3zM138.2 293.7l2.3 2.3 -2.3 2.3 -2.3 -2.3zM137.3 290.8l2.3 2.3 -2.3 2.3 -2.3 -2.3zM139.9 282.2l2.3 2.3 -2.3 2.3 -2.3 -2.3zM139.1 294.2l2.3 2.3 -2.3 2.3 -2.3 -2.3zM131.9 289.8l2.3 2.3 -2.3 2.3 -2.3 -2.3zM134.4 282.5l2.3 2.3 -2.3 2.3 -2.3 -2.3zM138.5 295.4l2.3 2.3 -2.3 2.3 -2.3 -2.3zM84.1 270.6l2.3 2.3 -2.3 2.3 -2.3 -2.3zM123.0 269.6l2.3 2.3 -2.3 2.3 -2.3 -2.3zM127.3 273.5l2.3 2.3 -2.3 2.3 -2.3 -2.3zM142.4 274.2l2.3 2.3 -2.3 2.3 -2.3 -2.3zM142.4 277.1l2.3 2.3 -2.3 2.3 -2.3 -2.3zM136.7 277.1l2.3 2.3 -2.3 2.3 -2.3 -2.3zM133.8 279.2l2.3 2.3 -2.3 2.3 -2.3 -2.3zM130.2 281.4l2.3 2.3 -2.3 2.3 -2.3 -2.3zM122.3 282.1l2.3 2.3 -2.3 2.3 -2.3 -2.3zM102.2 284.3l2.3 2.3 -2.3 2.3 -2.3 -2.3zM110.8 284.3l2.3 2.3 -2.3 2.3 -2.3 -2.3zM113.7 305.8l2.3 2.3 -2.3 2.3 -2.3 -2.3zM121.6 304.4l2.3 2.3 -2.3 2.3 -2.3 -2.3zM130.9 303.7l2.3 2.3 -2.3 2.3 -2.3 -2.3zM97.9 308.0l2.3 2.3 -2.3 2.3 -2.3 -2.3zM133.1 297.2l2.3 2.3 -2.3 2.3 -2.3 -2.3zM143.1 297.2l2.3 2.3 -2.3 2.3 -2.3 -2.3zM125.2 297.2l2.3 2.3 -2.3 2.3 -2.3 -2.3zM169.9 262.6l2.3 2.3 -2.3 2.3 -2.3 -2.3zM172.1 261.6l2.3 2.3 -2.3 2.3 -2.3 -2.3zM163.9 268.4l2.3 2.3 -2.3 2.3 -2.3 -2.3zM157.1 268.1l2.3 2.3 -2.3 2.3 -2.3 -2.3zM156.2 271.5l2.3 2.3 -2.3 2.3 -2.3 -2.3zM148.2 272.3l2.3 2.3 -2.3 2.3 -2.3 -2.3zM142.6 274.5l2.3 2.3 -2.3 2.3 -2.3 -2.3zM143.1 276.9l2.3 2.3 -2.3 2.3 -2.3 -2.3zM150.2 276.6l2.3 2.3 -2.3 2.3 -2.3 -2.3zM157.1 276.6l2.3 2.3 -2.3 2.3 -2.3 -2.3zM157.1 280.9l2.3 2.3 -2.3 2.3 -2.3 -2.3zM176.7 276.6l2.3 2.3 -2.3 2.3 -2.3 -2.3zM188.6 268.1l2.3 2.3 -2.3 2.3 -2.3 -2.3zM146.8 283.4l2.3 2.3 -2.3 2.3 -2.3 -2.3zM150.2 286.0l2.3 2.3 -2.3 2.3 -2.3 -2.3zM148.5 288.5l2.3 2.3 -2.3 2.3 -2.3 -2.3zM151.9 288.5l2.3 2.3 -2.3 2.3 -2.3 -2.3zM145.1 289.4l2.3 2.3 -2.3 2.3 -2.3 -2.3zM141.7 290.2l2.3 2.3 -2.3 2.3 -2.3 -2.3zM140.9 293.7l2.3 2.3 -2.3 2.3 -2.3 -2.3zM144.3 294.5l2.3 2.3 -2.3 2.3 -2.3 -2.3zM143.4 297.1l2.3 2.3 -2.3 2.3 -2.3 -2.3zM155.4 292.3l2.3 2.3 -2.3 2.3 -2.3 -2.3zM160.5 294.2l2.3 2.3 -2.3 2.3 -2.3 -2.3zM154.5 299.1l2.3 2.3 -2.3 2.3 -2.3 -2.3zM163.9 286.0l2.3 2.3 -2.3 2.3 -2.3 -2.3zM170.7 284.3l2.3 2.3 -2.3 2.3 -2.3 -2.3zM173.3 286.0l2.3 2.3 -2.3 2.3 -2.3 -2.3zM175.0 289.4l2.3 2.3 -2.3 2.3 -2.3 -2.3zM170.4 293.3l2.3 2.3 -2.3 2.3 -2.3 -2.3zM181.8 289.4l2.3 2.3 -2.3 2.3 -2.3 -2.3zM183.5 287.7l2.3 2.3 -2.3 2.3 -2.3 -2.3zM186.4 290.6l2.3 2.3 -2.3 2.3 -2.3 -2.3zM211.4 245.5l2.3 2.3 -2.3 2.3 -2.3 -2.3zM194.5 253.1l2.3 2.3 -2.3 2.3 -2.3 -2.3zM195.6 263.1l2.3 2.3 -2.3 2.3 -2.3 -2.3zM200.9 263.9l2.3 2.3 -2.3 2.3 -2.3 -2.3zM188.6 268.4l2.3 2.3 -2.3 2.3 -2.3 -2.3zM193.0 273.2l2.3 2.3 -2.3 2.3 -2.3 -2.3zM199.8 272.2l2.3 2.3 -2.3 2.3 -2.3 -2.3zM186.7 290.6l2.3 2.3 -2.3 2.3 -2.3 -2.3zM193.0 293.7l2.3 2.3 -2.3 2.3 -2.3 -2.3zM206.1 286.7l2.3 2.3 -2.3 2.3 -2.3 -2.3zM211.4 295.2l2.3 2.3 -2.3 2.3 -2.3 -2.3zM200.9 302.2l2.3 2.3 -2.3 2.3 -2.3 -2.3zM171.6 262.1l2.3 2.3 -2.3 2.3 -2.3 -2.3zM183.0 288.4l2.3 2.3 -2.3 2.3 -2.3 -2.3zM181.6 290.0l2.3 2.3 -2.3 2.3 -2.3 -2.3zM186.8 291.1l2.3 2.3 -2.3 2.3 -2.3 -2.3zM192.9 293.5l2.3 2.3 -2.3 2.3 -2.3 -2.3zM122.6 269.7l2.3 2.3 -2.3 2.3 -2.3 -2.3zM127.4 273.2l2.3 2.3 -2.3 2.3 -2.3 -2.3zM114.1 305.8l2.3 2.3 -2.3 2.3 -2.3 -2.3zM122.1 304.1l2.3 2.3 -2.3 2.3 -2.3 -2.3zM130.6 303.0l2.3 2.3 -2.3 2.3 -2.3 -2.3zM107.3 303.0l2.3 2.3 -2.3 2.3 -2.3 -2.3zM110.1 283.6l2.3 2.3 -2.3 2.3 -2.3 -2.3zM113.0 284.8l2.3 2.3 -2.3 2.3 -2.3 -2.3zM120.9 281.9l2.3 2.3 -2.3 2.3 -2.3 -2.3zM123.2 284.8l2.3 2.3 -2.3 2.3 -2.3 -2.3zM128.3 282.5l2.3 2.3 -2.3 2.3 -2.3 -2.3zM132.3 279.1l2.3 2.3 -2.3 2.3 -2.3 -2.3zM101.9 283.8l2.3 2.3 -2.3 2.3 -2.3 -2.3zM89.7 310.0l2.3 2.3 -2.3 2.3 -2.3 -2.3z" fill="#4472C8"/>
<path d="M53.6 306.3L211.8 275.3" stroke="#000" stroke-width="1.6" fill="none"/>
<text x="53.5" y="330.6" text-anchor="middle" class="tk" textLength="5.14" lengthAdjust="spacingAndGlyphs">0</text>
<text x="93.5" y="330.6" text-anchor="middle" class="tk" textLength="10.27" lengthAdjust="spacingAndGlyphs">10</text>
<text x="133.5" y="330.6" text-anchor="middle" class="tk" textLength="10.27" lengthAdjust="spacingAndGlyphs">20</text>
<text x="173.5" y="330.6" text-anchor="middle" class="tk" textLength="10.27" lengthAdjust="spacingAndGlyphs">30</text>
<text x="213.5" y="330.6" text-anchor="middle" class="tk" textLength="10.27" lengthAdjust="spacingAndGlyphs">40</text>
<text x="253.5" y="330.6" text-anchor="middle" class="tk" textLength="10.27" lengthAdjust="spacingAndGlyphs">50</text>
<text x="43.9" y="316.8" text-anchor="end" class="tk" textLength="5.14" lengthAdjust="spacingAndGlyphs">0</text>
<text x="43.9" y="300.0" text-anchor="end" class="tk" textLength="10.27" lengthAdjust="spacingAndGlyphs">10</text>
<text x="43.9" y="283.2" text-anchor="end" class="tk" textLength="10.27" lengthAdjust="spacingAndGlyphs">20</text>
<text x="43.9" y="266.3" text-anchor="end" class="tk" textLength="10.27" lengthAdjust="spacingAndGlyphs">30</text>
<text x="43.9" y="249.5" text-anchor="end" class="tk" textLength="10.27" lengthAdjust="spacingAndGlyphs">40</text>
<text x="43.9" y="232.7" text-anchor="end" class="tk" textLength="10.27" lengthAdjust="spacingAndGlyphs">50</text>
<text x="61.6" y="211.1" class="tt" textLength="151.1" lengthAdjust="spacingAndGlyphs">Acheron River at Taggerty</text>
<text x="76.5" y="348.6" class="xl" textLength="154.3" lengthAdjust="spacingAndGlyphs">ANN Model streamflow (cumec)</text>
<text transform="translate(22.4 349) rotate(-90)" class="yl" textLength="131" lengthAdjust="spacingAndGlyphs">Observed streamflow (cumec)</text>
<text x="65.7" y="246.9" class="rr" textLength="34" lengthAdjust="spacingAndGlyphs">R= 0.80</text>
<text x="38.3" y="357" class="lb">(c)</text>
</svg></body></html>
